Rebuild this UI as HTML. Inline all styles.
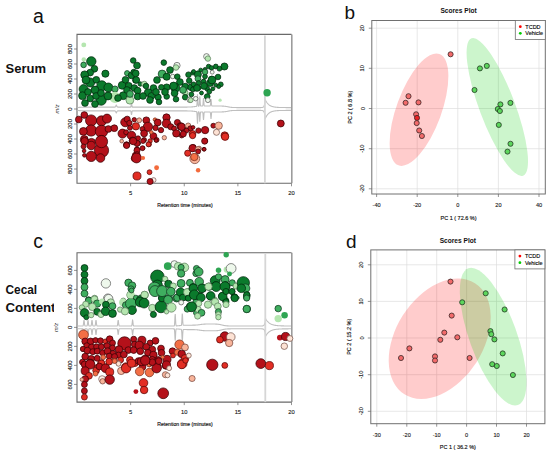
<!DOCTYPE html>
<html><head><meta charset="utf-8"><style>
html,body{margin:0;padding:0;background:#fff;width:550px;height:454px;overflow:hidden}
svg{display:block;font-family:"Liberation Sans",sans-serif}
</style></head><body>
<svg width="550" height="454" viewBox="0 0 550 454">
<defs><clipPath id="ccon"><rect x="0" y="0" width="54" height="454"/></clipPath></defs>
<path d="M291.8,183.3 V34.4 " fill="none" stroke="#9c9c9c" stroke-width="1.6"/>
<path d="M291.5,34.4 H77 V183.3 H291.5" fill="none" stroke="#6a6a6a" stroke-width="1.1"/>
<polyline points="77.50,107.49 77.75,107.48 78.00,107.47 78.25,107.45 78.50,107.44 78.75,107.43 79.00,107.41 79.25,107.40 79.50,107.38 79.75,107.37 80.00,107.35 80.25,107.33 80.50,107.32 80.75,107.30 81.00,107.29 81.25,107.27 81.50,107.26 81.75,107.25 82.00,107.23 82.25,107.22 82.50,107.21 82.75,107.20 83.00,107.19 83.25,107.18 83.50,107.17 83.75,107.17 84.00,107.16 84.25,107.15 84.50,107.15 84.75,107.14 85.00,107.14 85.25,107.13 85.50,107.13 85.75,107.13 86.00,107.12 86.25,107.12 86.50,107.12 86.75,107.12 87.00,107.11 87.25,107.11 87.50,107.11 87.75,107.11 88.00,107.11 88.25,107.11 88.50,107.11 88.75,107.11 89.00,107.11 89.25,107.10 89.50,107.10 89.75,107.10 90.00,107.10 90.25,107.10 90.50,107.10 90.75,107.10 91.00,107.10 91.25,107.10 91.50,107.10 91.75,107.10 92.00,107.10 92.25,107.10 92.50,107.10 92.75,107.10 93.00,107.10 93.25,107.10 93.50,107.10 93.75,107.10 94.00,107.10 94.25,107.10 94.50,107.10 94.75,107.10 95.00,107.10 95.25,107.10 95.50,107.10 95.75,107.10 96.00,107.10 96.25,107.10 96.50,107.10 96.75,107.10 97.00,107.10 97.25,107.10 97.50,107.10 97.75,107.10 98.00,107.10 98.25,107.10 98.50,107.10 98.75,107.10 99.00,107.10 99.25,107.10 99.50,107.10 99.75,107.10 100.00,107.10 100.25,107.10 100.50,107.10 100.75,107.10 101.00,107.10 101.25,107.10 101.50,107.10 101.75,107.10 102.00,107.10 102.25,107.10 102.50,107.10 102.75,107.10 103.00,107.10 103.25,107.10 103.50,107.10 103.75,107.10 104.00,107.10 104.25,107.10 104.50,107.10 104.75,107.10 105.00,107.10 105.25,107.10 105.50,107.10 105.75,107.10 106.00,107.10 106.25,107.10 106.50,107.10 106.75,107.10 107.00,107.10 107.25,107.10 107.50,107.10 107.75,107.10 108.00,107.10 108.25,107.10 108.50,107.10 108.75,107.10 109.00,107.10 109.25,107.10 109.50,107.10 109.75,107.10 110.00,107.10 110.25,107.10 110.50,107.10 110.75,107.10 111.00,107.10 111.25,107.10 111.50,107.10 111.75,107.10 112.00,107.10 112.25,107.10 112.50,107.10 112.75,107.10 113.00,107.10 113.25,107.10 113.50,107.10 113.75,107.10 114.00,107.10 114.25,107.10 114.50,107.10 114.75,107.10 115.00,107.08 115.25,107.01 115.50,106.76 115.75,106.24 116.00,105.54 116.25,105.11 116.50,105.31 116.75,105.96 117.00,106.59 117.25,106.94 117.50,107.06 117.75,107.09 118.00,107.10 118.25,107.10 118.50,107.10 118.75,107.10 119.00,107.10 119.25,107.10 119.50,107.10 119.75,107.10 120.00,107.10 120.25,107.10 120.50,107.10 120.75,107.10 121.00,107.10 121.25,107.10 121.50,107.10 121.75,107.10 122.00,107.10 122.25,107.10 122.50,107.10 122.75,107.10 123.00,107.10 123.25,107.10 123.50,107.10 123.75,107.10 124.00,107.10 124.25,107.10 124.50,107.10 124.75,107.10 125.00,107.10 125.25,107.10 125.50,107.10 125.75,107.10 126.00,107.10 126.25,107.10 126.50,107.10 126.75,107.10 127.00,107.10 127.25,107.10 127.50,107.10 127.75,107.10 128.00,107.10 128.25,107.10 128.50,107.10 128.75,107.10 129.00,107.10 129.25,107.10 129.50,107.10 129.75,107.10 130.00,107.10 130.25,107.10 130.50,107.09 130.75,106.98 131.00,106.26 131.25,104.39 131.50,103.10 131.75,104.39 132.00,106.26 132.25,106.98 132.50,107.09 132.75,107.10 133.00,107.10 133.25,107.10 133.50,107.10 133.75,107.10 134.00,107.10 134.25,107.10 134.50,107.10 134.75,107.10 135.00,107.10 135.25,107.10 135.50,107.10 135.75,107.10 136.00,107.10 136.25,107.10 136.50,107.10 136.75,107.10 137.00,107.10 137.25,107.10 137.50,107.10 137.75,107.10 138.00,107.10 138.25,107.10 138.50,107.10 138.75,107.10 139.00,107.10 139.25,107.10 139.50,107.10 139.75,107.10 140.00,107.10 140.25,107.10 140.50,107.10 140.75,107.10 141.00,107.10 141.25,107.10 141.50,107.10 141.75,107.10 142.00,107.10 142.25,107.10 142.50,107.10 142.75,107.10 143.00,107.10 143.25,107.10 143.50,107.10 143.75,107.10 144.00,107.10 144.25,107.10 144.50,107.10 144.75,107.10 145.00,107.10 145.25,107.10 145.50,107.10 145.75,107.10 146.00,107.10 146.25,107.10 146.50,107.10 146.75,107.10 147.00,107.10 147.25,107.10 147.50,107.10 147.75,107.10 148.00,107.10 148.25,107.10 148.50,107.10 148.75,107.10 149.00,107.10 149.25,107.10 149.50,107.10 149.75,107.10 150.00,107.10 150.25,107.10 150.50,107.10 150.75,107.10 151.00,107.10 151.25,107.10 151.50,107.10 151.75,107.10 152.00,107.10 152.25,107.10 152.50,107.10 152.75,107.10 153.00,107.10 153.25,107.10 153.50,107.10 153.75,107.10 154.00,107.10 154.25,107.10 154.50,107.10 154.75,107.10 155.00,107.10 155.25,107.10 155.50,107.10 155.75,107.10 156.00,107.10 156.25,107.10 156.50,107.10 156.75,107.10 157.00,107.10 157.25,107.10 157.50,107.10 157.75,107.10 158.00,107.10 158.25,107.10 158.50,107.10 158.75,107.10 159.00,107.10 159.25,107.10 159.50,107.10 159.75,107.10 160.00,107.10 160.25,107.10 160.50,107.10 160.75,107.10 161.00,107.10 161.25,107.10 161.50,107.10 161.75,107.10 162.00,107.10 162.25,107.10 162.50,107.10 162.75,107.10 163.00,107.10 163.25,107.10 163.50,107.10 163.75,107.10 164.00,107.10 164.25,107.10 164.50,107.10 164.75,107.10 165.00,107.10 165.25,107.10 165.50,107.10 165.75,107.10 166.00,107.10 166.25,107.10 166.50,107.10 166.75,107.10 167.00,107.10 167.25,107.10 167.50,107.10 167.75,107.10 168.00,107.10 168.25,107.10 168.50,107.10 168.75,107.10 169.00,107.10 169.25,107.10 169.50,107.10 169.75,107.10 170.00,107.10 170.25,107.10 170.50,107.10 170.75,107.10 171.00,107.10 171.25,107.10 171.50,107.10 171.75,107.10 172.00,107.10 172.25,107.10 172.50,107.10 172.75,107.10 173.00,107.10 173.25,107.10 173.50,107.10 173.75,107.10 174.00,107.10 174.25,107.10 174.50,107.10 174.75,107.10 175.00,107.10 175.25,107.10 175.50,107.10 175.75,107.10 176.00,107.10 176.25,107.10 176.50,107.10 176.75,107.10 177.00,107.10 177.25,107.10 177.50,107.10 177.75,107.10 178.00,107.10 178.25,107.10 178.50,107.10 178.75,107.10 179.00,107.10 179.25,107.10 179.50,107.10 179.75,107.10 180.00,107.10 180.25,107.10 180.50,107.10 180.75,107.10 181.00,107.10 181.25,107.10 181.50,107.10 181.75,107.10 182.00,107.10 182.25,107.10 182.50,107.10 182.75,107.10 183.00,107.10 183.25,107.10 183.50,107.10 183.75,107.10 184.00,107.10 184.25,107.09 184.50,107.09 184.75,107.09 185.00,107.09 185.25,107.09 185.50,107.09 185.75,107.09 186.00,107.09 186.25,107.09 186.50,107.08 186.75,107.08 187.00,107.08 187.25,107.08 187.50,107.07 187.75,107.07 188.00,107.07 188.25,107.06 188.50,107.06 188.75,107.05 189.00,107.05 189.25,107.04 189.50,107.03 189.75,107.03 190.00,107.02 190.25,107.01 190.50,107.00 190.75,106.98 191.00,106.97 191.25,106.95 191.50,106.94 191.75,106.92 192.00,106.90 192.25,106.88 192.50,106.86 192.75,106.83 193.00,106.80 193.25,106.78 193.50,106.75 193.75,106.72 194.00,106.68 194.25,106.65 194.50,106.62 194.75,106.58 195.00,106.55 195.25,106.52 195.50,106.48 195.75,106.45 196.00,106.42 196.25,106.38 196.50,106.33 196.75,105.97 197.00,103.78 197.25,98.15 197.50,94.24 197.75,98.10 198.00,103.69 198.25,105.82 198.50,106.14 198.75,106.14 199.00,105.95 199.25,104.61 199.50,100.41 199.75,96.25 200.00,98.30 200.25,103.25 200.50,105.60 200.75,106.02 201.00,106.05 201.25,106.05 201.50,106.04 201.75,106.04 202.00,106.03 202.25,106.03 202.50,106.01 202.75,105.78 203.00,104.34 203.25,100.60 203.50,98.02 203.75,100.60 204.00,104.34 204.25,105.77 204.50,105.99 204.75,106.01 205.00,106.01 205.25,106.01 205.50,106.01 205.75,106.01 206.00,106.00 206.25,106.00 206.50,106.00 206.75,106.00 207.00,106.00 207.25,106.00 207.50,106.00 207.75,106.00 208.00,106.00 208.25,106.00 208.50,106.00 208.75,106.00 209.00,106.00 209.25,106.00 209.50,106.00 209.75,106.00 210.00,105.99 210.25,105.79 210.50,104.53 210.75,101.26 211.00,99.00 211.25,101.26 211.50,104.53 211.75,105.79 212.00,105.99 212.25,106.00 212.50,106.00 212.75,106.00 213.00,106.00 213.25,106.00 213.50,106.00 213.75,106.00 214.00,106.00 214.25,106.00 214.50,106.00 214.75,106.00 215.00,106.00 215.25,106.00 215.50,106.00 215.75,106.00 216.00,106.00 216.25,106.00 216.50,106.01 216.75,106.01 217.00,106.01 217.25,106.01 217.50,106.01 217.75,106.01 218.00,106.01 218.25,106.01 218.50,106.01 218.75,106.02 219.00,106.02 219.25,106.02 219.50,106.02 219.75,106.03 220.00,106.03 220.25,106.03 220.50,106.04 220.75,106.04 221.00,106.05 221.25,106.05 221.50,106.06 221.75,106.07 222.00,106.08 222.25,106.09 222.50,106.10 222.75,106.11 223.00,106.12 223.25,106.14 223.50,106.15 223.75,106.17 224.00,106.19 224.25,106.21 224.50,106.24 224.75,106.26 225.00,106.29 225.25,106.32 225.50,106.36 225.75,106.39 226.00,106.43 226.25,106.47 226.50,106.51 226.75,106.56 227.00,106.60 227.25,106.65 227.50,106.70 227.75,106.75 228.00,106.80 228.25,106.85 228.50,106.90 228.75,106.95 229.00,107.00 229.25,107.04 229.50,107.09 229.75,107.13 230.00,107.17 230.25,107.21 230.50,107.24 230.75,107.28 231.00,107.31 231.25,107.34 231.50,107.36 231.75,107.39 232.00,107.41 232.25,107.43 232.50,107.45 232.75,107.46 233.00,107.48 233.25,107.49 233.50,107.50 233.75,107.51 234.00,107.52 234.25,107.53 234.50,107.54 234.75,107.55 235.00,107.55 235.25,107.56 235.50,107.56 235.75,107.57 236.00,107.57 236.25,107.57 236.50,107.58 236.75,107.58 237.00,107.58 237.25,107.58 237.50,107.59 237.75,107.59 238.00,107.59 238.25,107.59 238.50,107.59 238.75,107.59 239.00,107.59 239.25,107.59 239.50,107.59 239.75,107.60 240.00,107.60 240.25,107.60 240.50,107.60 240.75,107.60 241.00,107.60 241.25,107.60 241.50,107.60 241.75,107.60 242.00,107.60 242.25,107.60 242.50,107.60 242.75,107.60 243.00,107.60 243.25,107.60 243.50,107.60 243.75,107.60 244.00,107.60 244.25,107.60 244.50,107.60 244.75,107.60 245.00,107.60 245.25,107.60 245.50,107.60 245.75,107.60 246.00,107.60 246.25,107.60 246.50,107.60 246.75,107.60 247.00,107.60 247.25,107.60 247.50,107.60 247.75,107.60 248.00,107.60 248.25,107.60 248.50,107.60 248.75,107.60 249.00,107.60 249.25,107.60 249.50,107.60 249.75,107.60 250.00,107.60 250.25,107.60 250.50,107.60 250.75,107.60 251.00,107.60 251.25,107.60 251.50,107.60 251.75,107.60 252.00,107.60 252.25,107.60 252.50,107.60 252.75,107.60 253.00,107.60 253.25,107.60 253.50,107.60 253.75,107.60 254.00,107.60 254.25,107.60 254.50,107.60 254.75,107.60 255.00,107.60 255.25,107.60 255.50,107.60 255.75,107.60 256.00,107.60 256.25,107.60 256.50,107.60 256.75,107.60 257.00,107.60 257.25,107.60 257.50,107.60 257.75,107.60 258.00,107.60 258.25,107.60 258.50,107.60 258.75,107.60 259.00,107.60 259.25,107.60 259.50,107.60 259.75,107.60 260.00,107.60 260.25,107.59 260.50,107.59 260.75,107.59 261.00,107.58 261.25,107.57 261.50,107.56 261.75,107.54 262.00,107.51 262.25,107.48 262.50,107.42 262.75,107.35 263.00,107.24 263.25,107.09 263.50,106.87 263.75,106.56 264.00,106.11 264.25,105.47 264.50,104.55 264.75,103.24 265.00,98.85 265.25,99.46 265.50,100.02 265.75,100.54 266.00,101.03 266.25,101.48 266.50,101.90 266.75,102.29 267.00,102.66 267.25,103.00 267.50,103.32 267.75,103.61 268.00,103.89 268.25,104.14 268.50,104.38 268.75,104.60 269.00,104.81 269.25,105.00 269.50,105.18 269.75,105.35 270.00,105.50 270.25,105.65 270.50,105.78 270.75,105.91 271.00,106.02 271.25,106.13 271.50,106.23 271.75,106.33 272.00,106.42 272.25,106.50 272.50,106.57 272.75,106.64 273.00,106.71 273.25,106.77 273.50,106.83 273.75,106.88 274.00,106.93 274.25,106.98 274.50,107.02 274.75,107.06 275.00,107.10 275.25,107.13 275.50,107.16 275.75,107.19 276.00,107.22 276.25,107.25 276.50,107.27 276.75,107.30 277.00,107.32 277.25,107.34 277.50,107.35 277.75,107.37 278.00,107.39 278.25,107.40 278.50,107.42 278.75,107.43 279.00,107.44 279.25,107.45 279.50,107.46 279.75,107.47 280.00,107.48 280.25,107.49 280.50,107.50 280.75,107.50 281.00,107.51 281.25,107.52 281.50,107.52 281.75,107.53 282.00,107.53 282.25,107.54 282.50,107.54 282.75,107.55 283.00,107.55 283.25,107.55 283.50,107.56 283.75,107.56 284.00,107.56 284.25,107.56 284.50,107.57 284.75,107.57 285.00,107.57 285.25,107.57 285.50,107.57 285.75,107.58 286.00,107.58 286.25,107.58 286.50,107.58 286.75,107.58 287.00,107.58 287.25,107.58 287.50,107.59 287.75,107.59 288.00,107.59 288.25,107.59 288.50,107.59 288.75,107.59 289.00,107.59 289.25,107.59 289.50,107.59 289.75,107.59 290.00,107.59 290.25,107.59 290.50,107.59 290.75,107.59 291.00,107.59" fill="none" stroke="#bfbfbf" stroke-width="1.1"/><polyline points="77.50,110.51 77.75,110.52 78.00,110.53 78.25,110.55 78.50,110.56 78.75,110.57 79.00,110.59 79.25,110.60 79.50,110.62 79.75,110.63 80.00,110.65 80.25,110.67 80.50,110.68 80.75,110.70 81.00,110.71 81.25,110.73 81.50,110.74 81.75,110.75 82.00,110.77 82.25,110.78 82.50,110.79 82.75,110.80 83.00,110.81 83.25,110.82 83.50,110.83 83.75,110.83 84.00,110.84 84.25,110.85 84.50,110.85 84.75,110.86 85.00,110.86 85.25,110.87 85.50,110.87 85.75,110.87 86.00,110.88 86.25,110.88 86.50,110.88 86.75,110.88 87.00,110.89 87.25,110.89 87.50,110.89 87.75,110.89 88.00,110.89 88.25,110.89 88.50,110.89 88.75,110.89 89.00,110.89 89.25,110.90 89.50,110.90 89.75,110.90 90.00,110.90 90.25,110.90 90.50,110.90 90.75,110.90 91.00,110.90 91.25,110.90 91.50,110.90 91.75,110.90 92.00,110.90 92.25,110.90 92.50,110.90 92.75,110.90 93.00,110.90 93.25,110.90 93.50,110.90 93.75,110.90 94.00,110.90 94.25,110.90 94.50,110.90 94.75,110.90 95.00,110.90 95.25,110.90 95.50,110.90 95.75,110.90 96.00,110.90 96.25,110.90 96.50,110.90 96.75,110.90 97.00,110.90 97.25,110.90 97.50,110.90 97.75,110.90 98.00,110.90 98.25,110.90 98.50,110.90 98.75,110.90 99.00,110.90 99.25,110.90 99.50,110.90 99.75,110.90 100.00,110.90 100.25,110.90 100.50,110.90 100.75,110.90 101.00,110.90 101.25,110.90 101.50,110.90 101.75,110.90 102.00,110.90 102.25,110.90 102.50,110.90 102.75,110.90 103.00,110.90 103.25,110.90 103.50,110.90 103.75,110.90 104.00,110.90 104.25,110.90 104.50,110.90 104.75,110.90 105.00,110.90 105.25,110.90 105.50,110.90 105.75,110.90 106.00,110.90 106.25,110.90 106.50,110.90 106.75,110.90 107.00,110.90 107.25,110.90 107.50,110.90 107.75,110.90 108.00,110.90 108.25,110.90 108.50,110.90 108.75,110.90 109.00,110.90 109.25,110.90 109.50,110.90 109.75,110.90 110.00,110.90 110.25,110.90 110.50,110.90 110.75,110.90 111.00,110.90 111.25,110.90 111.50,110.90 111.75,110.90 112.00,110.90 112.25,110.90 112.50,110.90 112.75,110.90 113.00,110.90 113.25,110.90 113.50,110.90 113.75,110.90 114.00,110.90 114.25,110.90 114.50,110.90 114.75,110.90 115.00,110.92 115.25,110.99 115.50,111.24 115.75,111.76 116.00,112.46 116.25,112.89 116.50,112.69 116.75,112.04 117.00,111.41 117.25,111.06 117.50,110.94 117.75,110.91 118.00,110.90 118.25,110.90 118.50,110.90 118.75,110.90 119.00,110.90 119.25,110.90 119.50,110.90 119.75,110.90 120.00,110.90 120.25,110.90 120.50,110.90 120.75,110.90 121.00,110.90 121.25,110.90 121.50,110.90 121.75,110.90 122.00,110.90 122.25,110.90 122.50,110.90 122.75,110.90 123.00,110.90 123.25,110.90 123.50,110.90 123.75,110.90 124.00,110.90 124.25,110.90 124.50,110.90 124.75,110.90 125.00,110.90 125.25,110.90 125.50,110.90 125.75,110.90 126.00,110.90 126.25,110.90 126.50,110.90 126.75,110.90 127.00,110.90 127.25,110.90 127.50,110.90 127.75,110.90 128.00,110.90 128.25,110.90 128.50,110.90 128.75,110.90 129.00,110.90 129.25,110.90 129.50,110.90 129.75,110.90 130.00,110.90 130.25,110.90 130.50,110.91 130.75,111.02 131.00,111.74 131.25,113.61 131.50,114.90 131.75,113.61 132.00,111.74 132.25,111.02 132.50,110.91 132.75,110.90 133.00,110.90 133.25,110.90 133.50,110.90 133.75,110.90 134.00,110.90 134.25,110.90 134.50,110.90 134.75,110.90 135.00,110.90 135.25,110.90 135.50,110.90 135.75,110.90 136.00,110.90 136.25,110.90 136.50,110.90 136.75,110.90 137.00,110.90 137.25,110.90 137.50,110.90 137.75,110.90 138.00,110.90 138.25,110.90 138.50,110.90 138.75,110.90 139.00,110.90 139.25,110.90 139.50,110.90 139.75,110.90 140.00,110.90 140.25,110.90 140.50,110.90 140.75,110.90 141.00,110.90 141.25,110.90 141.50,110.90 141.75,110.90 142.00,110.90 142.25,110.90 142.50,110.90 142.75,110.90 143.00,110.90 143.25,110.90 143.50,110.90 143.75,110.90 144.00,110.90 144.25,110.90 144.50,110.90 144.75,110.90 145.00,110.90 145.25,110.90 145.50,110.90 145.75,110.90 146.00,110.90 146.25,110.90 146.50,110.90 146.75,110.90 147.00,110.90 147.25,110.90 147.50,110.90 147.75,110.90 148.00,110.90 148.25,110.90 148.50,110.90 148.75,110.90 149.00,110.90 149.25,110.90 149.50,110.90 149.75,110.90 150.00,110.90 150.25,110.90 150.50,110.90 150.75,110.90 151.00,110.90 151.25,110.90 151.50,110.90 151.75,110.90 152.00,110.90 152.25,110.90 152.50,110.90 152.75,110.90 153.00,110.90 153.25,110.90 153.50,110.90 153.75,110.90 154.00,110.90 154.25,110.90 154.50,110.90 154.75,110.90 155.00,110.90 155.25,110.90 155.50,110.90 155.75,110.90 156.00,110.90 156.25,110.90 156.50,110.90 156.75,110.90 157.00,110.90 157.25,110.90 157.50,110.90 157.75,110.90 158.00,110.90 158.25,110.90 158.50,110.90 158.75,110.90 159.00,110.90 159.25,110.90 159.50,110.90 159.75,110.90 160.00,110.90 160.25,110.90 160.50,110.90 160.75,110.90 161.00,110.90 161.25,110.90 161.50,110.90 161.75,110.90 162.00,110.90 162.25,110.90 162.50,110.90 162.75,110.90 163.00,110.90 163.25,110.90 163.50,110.90 163.75,110.90 164.00,110.90 164.25,110.90 164.50,110.90 164.75,110.90 165.00,110.90 165.25,110.90 165.50,110.90 165.75,110.90 166.00,110.90 166.25,110.90 166.50,110.90 166.75,110.90 167.00,110.90 167.25,110.90 167.50,110.90 167.75,110.90 168.00,110.90 168.25,110.90 168.50,110.90 168.75,110.90 169.00,110.90 169.25,110.90 169.50,110.90 169.75,110.90 170.00,110.90 170.25,110.90 170.50,110.90 170.75,110.90 171.00,110.90 171.25,110.90 171.50,110.90 171.75,110.90 172.00,110.90 172.25,110.90 172.50,110.90 172.75,110.90 173.00,110.90 173.25,110.90 173.50,110.90 173.75,110.90 174.00,110.90 174.25,110.90 174.50,110.90 174.75,110.90 175.00,110.90 175.25,110.90 175.50,110.90 175.75,110.90 176.00,110.90 176.25,110.90 176.50,110.90 176.75,110.90 177.00,110.90 177.25,110.90 177.50,110.90 177.75,110.90 178.00,110.90 178.25,110.90 178.50,110.90 178.75,110.90 179.00,110.90 179.25,110.90 179.50,110.90 179.75,110.90 180.00,110.90 180.25,110.90 180.50,110.90 180.75,110.90 181.00,110.90 181.25,110.90 181.50,110.90 181.75,110.90 182.00,110.90 182.25,110.90 182.50,110.90 182.75,110.90 183.00,110.90 183.25,110.90 183.50,110.90 183.75,110.90 184.00,110.90 184.25,110.91 184.50,110.91 184.75,110.91 185.00,110.91 185.25,110.91 185.50,110.91 185.75,110.91 186.00,110.91 186.25,110.91 186.50,110.92 186.75,110.92 187.00,110.92 187.25,110.92 187.50,110.93 187.75,110.93 188.00,110.93 188.25,110.94 188.50,110.94 188.75,110.95 189.00,110.95 189.25,110.96 189.50,110.97 189.75,110.97 190.00,110.98 190.25,110.99 190.50,111.00 190.75,111.02 191.00,111.03 191.25,111.05 191.50,111.06 191.75,111.08 192.00,111.10 192.25,111.12 192.50,111.14 192.75,111.17 193.00,111.20 193.25,111.22 193.50,111.25 193.75,111.28 194.00,111.32 194.25,111.35 194.50,111.38 194.75,111.42 195.00,111.45 195.25,111.48 195.50,111.52 195.75,111.55 196.00,111.58 196.25,111.62 196.50,111.67 196.75,112.03 197.00,114.22 197.25,119.85 197.50,123.76 197.75,119.90 198.00,114.31 198.25,112.18 198.50,111.86 198.75,111.86 199.00,112.05 199.25,113.39 199.50,117.59 199.75,121.75 200.00,119.70 200.25,114.75 200.50,112.40 200.75,111.98 201.00,111.95 201.25,111.95 201.50,111.96 201.75,111.96 202.00,111.97 202.25,111.97 202.50,111.99 202.75,112.22 203.00,113.66 203.25,117.40 203.50,119.98 203.75,117.40 204.00,113.66 204.25,112.23 204.50,112.01 204.75,111.99 205.00,111.99 205.25,111.99 205.50,111.99 205.75,111.99 206.00,112.00 206.25,112.00 206.50,112.00 206.75,112.00 207.00,112.00 207.25,112.00 207.50,112.00 207.75,112.00 208.00,112.00 208.25,112.00 208.50,112.00 208.75,112.00 209.00,112.00 209.25,112.00 209.50,112.00 209.75,112.00 210.00,112.01 210.25,112.21 210.50,113.47 210.75,116.74 211.00,119.00 211.25,116.74 211.50,113.47 211.75,112.21 212.00,112.01 212.25,112.00 212.50,112.00 212.75,112.00 213.00,112.00 213.25,112.00 213.50,112.00 213.75,112.00 214.00,112.00 214.25,112.00 214.50,112.00 214.75,112.00 215.00,112.00 215.25,112.00 215.50,112.00 215.75,112.00 216.00,112.00 216.25,112.00 216.50,111.99 216.75,111.99 217.00,111.99 217.25,111.99 217.50,111.99 217.75,111.99 218.00,111.99 218.25,111.99 218.50,111.99 218.75,111.98 219.00,111.98 219.25,111.98 219.50,111.98 219.75,111.97 220.00,111.97 220.25,111.97 220.50,111.96 220.75,111.96 221.00,111.95 221.25,111.95 221.50,111.94 221.75,111.93 222.00,111.92 222.25,111.91 222.50,111.90 222.75,111.89 223.00,111.88 223.25,111.86 223.50,111.85 223.75,111.83 224.00,111.81 224.25,111.79 224.50,111.76 224.75,111.74 225.00,111.71 225.25,111.68 225.50,111.64 225.75,111.61 226.00,111.57 226.25,111.53 226.50,111.49 226.75,111.44 227.00,111.40 227.25,111.35 227.50,111.30 227.75,111.25 228.00,111.20 228.25,111.15 228.50,111.10 228.75,111.05 229.00,111.00 229.25,110.96 229.50,110.91 229.75,110.87 230.00,110.83 230.25,110.79 230.50,110.76 230.75,110.72 231.00,110.69 231.25,110.66 231.50,110.64 231.75,110.61 232.00,110.59 232.25,110.57 232.50,110.55 232.75,110.54 233.00,110.52 233.25,110.51 233.50,110.50 233.75,110.49 234.00,110.48 234.25,110.47 234.50,110.46 234.75,110.45 235.00,110.45 235.25,110.44 235.50,110.44 235.75,110.43 236.00,110.43 236.25,110.43 236.50,110.42 236.75,110.42 237.00,110.42 237.25,110.42 237.50,110.41 237.75,110.41 238.00,110.41 238.25,110.41 238.50,110.41 238.75,110.41 239.00,110.41 239.25,110.41 239.50,110.41 239.75,110.40 240.00,110.40 240.25,110.40 240.50,110.40 240.75,110.40 241.00,110.40 241.25,110.40 241.50,110.40 241.75,110.40 242.00,110.40 242.25,110.40 242.50,110.40 242.75,110.40 243.00,110.40 243.25,110.40 243.50,110.40 243.75,110.40 244.00,110.40 244.25,110.40 244.50,110.40 244.75,110.40 245.00,110.40 245.25,110.40 245.50,110.40 245.75,110.40 246.00,110.40 246.25,110.40 246.50,110.40 246.75,110.40 247.00,110.40 247.25,110.40 247.50,110.40 247.75,110.40 248.00,110.40 248.25,110.40 248.50,110.40 248.75,110.40 249.00,110.40 249.25,110.40 249.50,110.40 249.75,110.40 250.00,110.40 250.25,110.40 250.50,110.40 250.75,110.40 251.00,110.40 251.25,110.40 251.50,110.40 251.75,110.40 252.00,110.40 252.25,110.40 252.50,110.40 252.75,110.40 253.00,110.40 253.25,110.40 253.50,110.40 253.75,110.40 254.00,110.40 254.25,110.40 254.50,110.40 254.75,110.40 255.00,110.40 255.25,110.40 255.50,110.40 255.75,110.40 256.00,110.40 256.25,110.40 256.50,110.40 256.75,110.40 257.00,110.40 257.25,110.40 257.50,110.40 257.75,110.40 258.00,110.40 258.25,110.40 258.50,110.40 258.75,110.40 259.00,110.40 259.25,110.40 259.50,110.40 259.75,110.40 260.00,110.40 260.25,110.41 260.50,110.41 260.75,110.41 261.00,110.42 261.25,110.43 261.50,110.44 261.75,110.46 262.00,110.49 262.25,110.52 262.50,110.58 262.75,110.65 263.00,110.76 263.25,110.91 263.50,111.13 263.75,111.44 264.00,111.89 264.25,112.53 264.50,113.45 264.75,114.76 265.00,119.15 265.25,118.54 265.50,117.98 265.75,117.46 266.00,116.97 266.25,116.52 266.50,116.10 266.75,115.71 267.00,115.34 267.25,115.00 267.50,114.68 267.75,114.39 268.00,114.11 268.25,113.86 268.50,113.62 268.75,113.40 269.00,113.19 269.25,113.00 269.50,112.82 269.75,112.65 270.00,112.50 270.25,112.35 270.50,112.22 270.75,112.09 271.00,111.98 271.25,111.87 271.50,111.77 271.75,111.67 272.00,111.58 272.25,111.50 272.50,111.43 272.75,111.36 273.00,111.29 273.25,111.23 273.50,111.17 273.75,111.12 274.00,111.07 274.25,111.02 274.50,110.98 274.75,110.94 275.00,110.90 275.25,110.87 275.50,110.84 275.75,110.81 276.00,110.78 276.25,110.75 276.50,110.73 276.75,110.70 277.00,110.68 277.25,110.66 277.50,110.65 277.75,110.63 278.00,110.61 278.25,110.60 278.50,110.58 278.75,110.57 279.00,110.56 279.25,110.55 279.50,110.54 279.75,110.53 280.00,110.52 280.25,110.51 280.50,110.50 280.75,110.50 281.00,110.49 281.25,110.48 281.50,110.48 281.75,110.47 282.00,110.47 282.25,110.46 282.50,110.46 282.75,110.45 283.00,110.45 283.25,110.45 283.50,110.44 283.75,110.44 284.00,110.44 284.25,110.44 284.50,110.43 284.75,110.43 285.00,110.43 285.25,110.43 285.50,110.43 285.75,110.42 286.00,110.42 286.25,110.42 286.50,110.42 286.75,110.42 287.00,110.42 287.25,110.42 287.50,110.41 287.75,110.41 288.00,110.41 288.25,110.41 288.50,110.41 288.75,110.41 289.00,110.41 289.25,110.41 289.50,110.41 289.75,110.41 290.00,110.41 290.25,110.41 290.50,110.41 290.75,110.41 291.00,110.41" fill="none" stroke="#bfbfbf" stroke-width="1.1"/><line x1="264.9" y1="35.4" x2="264.9" y2="183.3" stroke="#d6d6d6" stroke-width="1.8"/>
<line x1="74" y1="49.0" x2="77" y2="49.0" stroke="#666" stroke-width="0.7"/>
<text x="72.3" y="49.0" font-size="6.0" text-anchor="middle" font-weight="normal" fill="#1a1a1a" stroke="#1a1a1a" stroke-width="0.12" transform="rotate(-90 72.3 49.0)">800</text>
<line x1="74" y1="64.0" x2="77" y2="64.0" stroke="#666" stroke-width="0.7"/>
<text x="72.3" y="64.0" font-size="6.0" text-anchor="middle" font-weight="normal" fill="#1a1a1a" stroke="#1a1a1a" stroke-width="0.12" transform="rotate(-90 72.3 64.0)">600</text>
<line x1="74" y1="79.0" x2="77" y2="79.0" stroke="#666" stroke-width="0.7"/>
<text x="72.3" y="79.0" font-size="6.0" text-anchor="middle" font-weight="normal" fill="#1a1a1a" stroke="#1a1a1a" stroke-width="0.12" transform="rotate(-90 72.3 79.0)">400</text>
<line x1="74" y1="94.0" x2="77" y2="94.0" stroke="#666" stroke-width="0.7"/>
<text x="72.3" y="94.0" font-size="6.0" text-anchor="middle" font-weight="normal" fill="#1a1a1a" stroke="#1a1a1a" stroke-width="0.12" transform="rotate(-90 72.3 94.0)">200</text>
<line x1="74" y1="109.0" x2="77" y2="109.0" stroke="#666" stroke-width="0.7"/>
<text x="72.3" y="109.0" font-size="6.0" text-anchor="middle" font-weight="normal" fill="#1a1a1a" stroke="#1a1a1a" stroke-width="0.12" transform="rotate(-90 72.3 109.0)">0</text>
<line x1="74" y1="124.0" x2="77" y2="124.0" stroke="#666" stroke-width="0.7"/>
<text x="72.3" y="124.0" font-size="6.0" text-anchor="middle" font-weight="normal" fill="#1a1a1a" stroke="#1a1a1a" stroke-width="0.12" transform="rotate(-90 72.3 124.0)">200</text>
<line x1="74" y1="139.0" x2="77" y2="139.0" stroke="#666" stroke-width="0.7"/>
<text x="72.3" y="139.0" font-size="6.0" text-anchor="middle" font-weight="normal" fill="#1a1a1a" stroke="#1a1a1a" stroke-width="0.12" transform="rotate(-90 72.3 139.0)">400</text>
<line x1="74" y1="154.0" x2="77" y2="154.0" stroke="#666" stroke-width="0.7"/>
<text x="72.3" y="154.0" font-size="6.0" text-anchor="middle" font-weight="normal" fill="#1a1a1a" stroke="#1a1a1a" stroke-width="0.12" transform="rotate(-90 72.3 154.0)">600</text>
<line x1="74" y1="169.0" x2="77" y2="169.0" stroke="#666" stroke-width="0.7"/>
<text x="72.3" y="169.0" font-size="6.0" text-anchor="middle" font-weight="normal" fill="#1a1a1a" stroke="#1a1a1a" stroke-width="0.12" transform="rotate(-90 72.3 169.0)">800</text>
<line x1="130.625" y1="183.3" x2="130.625" y2="186.3" stroke="#666" stroke-width="0.7"/>
<text x="130.625" y="195.3" font-size="5.8" text-anchor="middle" font-weight="normal" fill="#1a1a1a" stroke="#1a1a1a" stroke-width="0.12">5</text>
<line x1="184.25" y1="183.3" x2="184.25" y2="186.3" stroke="#666" stroke-width="0.7"/>
<text x="184.25" y="195.3" font-size="5.8" text-anchor="middle" font-weight="normal" fill="#1a1a1a" stroke="#1a1a1a" stroke-width="0.12">10</text>
<line x1="237.875" y1="183.3" x2="237.875" y2="186.3" stroke="#666" stroke-width="0.7"/>
<text x="237.875" y="195.3" font-size="5.8" text-anchor="middle" font-weight="normal" fill="#1a1a1a" stroke="#1a1a1a" stroke-width="0.12">15</text>
<line x1="291.5" y1="183.3" x2="291.5" y2="186.3" stroke="#666" stroke-width="0.7"/>
<text x="291.5" y="195.3" font-size="5.8" text-anchor="middle" font-weight="normal" fill="#1a1a1a" stroke="#1a1a1a" stroke-width="0.12">20</text>
<circle cx="91.3" cy="61.4" r="4.70" fill="#0b7a2c" stroke="#022a0c" stroke-width="0.75"/>
<circle cx="83.8" cy="59.6" r="2.24" fill="#b5e6b0"/>
<circle cx="83.6" cy="64.9" r="2.80" fill="#3fae5f" stroke="#123a20" stroke-width="0.75"/>
<circle cx="94.4" cy="68.8" r="3.36" fill="#0b7a2c" stroke="#022a0c" stroke-width="0.75"/>
<circle cx="90.2" cy="72.6" r="3.36" fill="#0b7a2c" stroke="#022a0c" stroke-width="0.75"/>
<circle cx="84.7" cy="74.8" r="3.92" fill="#0b7a2c" stroke="#022a0c" stroke-width="0.75"/>
<circle cx="105.4" cy="73.7" r="3.58" fill="#0b7a2c" stroke="#022a0c" stroke-width="0.75"/>
<circle cx="90.2" cy="82.5" r="4.48" fill="#0b7a2c" stroke="#022a0c" stroke-width="0.75"/>
<circle cx="96.3" cy="79.8" r="3.36" fill="#0b7a2c" stroke="#022a0c" stroke-width="0.75"/>
<circle cx="101.8" cy="85.8" r="5.04" fill="#0b7a2c" stroke="#022a0c" stroke-width="0.75"/>
<circle cx="108.4" cy="87.5" r="4.48" fill="#0b7a2c" stroke="#022a0c" stroke-width="0.75"/>
<circle cx="115.0" cy="89.1" r="3.14" fill="#3fae5f" stroke="#123a20" stroke-width="0.75"/>
<circle cx="115.0" cy="97.4" r="5.60" fill="#b5e6b0"/>
<circle cx="101.2" cy="100.2" r="5.04" fill="#0b7a2c" stroke="#022a0c" stroke-width="0.75"/>
<circle cx="83.6" cy="89.1" r="4.48" fill="#0b7a2c" stroke="#022a0c" stroke-width="0.75"/>
<circle cx="90.2" cy="98.5" r="3.36" fill="#0b7a2c" stroke="#022a0c" stroke-width="0.75"/>
<circle cx="82.5" cy="95.7" r="3.92" fill="#0b7a2c" stroke="#022a0c" stroke-width="0.75"/>
<circle cx="122.2" cy="85.3" r="3.92" fill="#0b7a2c" stroke="#022a0c" stroke-width="0.75"/>
<circle cx="125.5" cy="79.8" r="3.36" fill="#0b7a2c" stroke="#022a0c" stroke-width="0.75"/>
<circle cx="127.1" cy="73.2" r="2.58" fill="#3fae5f" stroke="#123a20" stroke-width="0.75"/>
<circle cx="131.5" cy="75.4" r="3.36" fill="#0b7a2c" stroke="#022a0c" stroke-width="0.75"/>
<circle cx="133.7" cy="72.1" r="2.80" fill="#0b7a2c" stroke="#022a0c" stroke-width="0.75"/>
<circle cx="133.2" cy="60.5" r="2.80" fill="#0b7a2c" stroke="#022a0c" stroke-width="0.75"/>
<circle cx="123.3" cy="95.7" r="3.92" fill="#0b7a2c" stroke="#022a0c" stroke-width="0.75"/>
<circle cx="129.9" cy="100.2" r="3.92" fill="#b5e6b0" stroke="#5f7f5f" stroke-width="0.75"/>
<circle cx="128.8" cy="85.8" r="3.36" fill="#0b7a2c" stroke="#022a0c" stroke-width="0.75"/>
<circle cx="134.3" cy="88.0" r="3.36" fill="#0b7a2c" stroke="#022a0c" stroke-width="0.75"/>
<circle cx="135.4" cy="80.3" r="2.80" fill="#0b7a2c" stroke="#022a0c" stroke-width="0.75"/>
<circle cx="83.8" cy="44.9" r="2.46" fill="#b5e6b0"/>
<circle cx="86.0" cy="80.0" r="3.92" fill="#0b7a2c" stroke="#022a0c" stroke-width="0.75"/>
<circle cx="95.0" cy="90.0" r="3.92" fill="#0b7a2c" stroke="#022a0c" stroke-width="0.75"/>
<circle cx="88.0" cy="92.0" r="3.36" fill="#0b7a2c" stroke="#022a0c" stroke-width="0.75"/>
<circle cx="96.0" cy="96.0" r="3.36" fill="#0b7a2c" stroke="#022a0c" stroke-width="0.75"/>
<circle cx="108.0" cy="96.0" r="3.92" fill="#0b7a2c" stroke="#022a0c" stroke-width="0.75"/>
<circle cx="85.0" cy="103.0" r="3.36" fill="#0b7a2c" stroke="#022a0c" stroke-width="0.75"/>
<circle cx="95.0" cy="104.0" r="3.36" fill="#0b7a2c" stroke="#022a0c" stroke-width="0.75"/>
<circle cx="101.0" cy="93.0" r="3.36" fill="#0b7a2c" stroke="#022a0c" stroke-width="0.75"/>
<circle cx="163.8" cy="62.6" r="2.80" fill="#0b7a2c" stroke="#022a0c" stroke-width="0.75"/>
<circle cx="177.0" cy="65.5" r="3.14" fill="#eef8ec" stroke="#606060" stroke-width="0.75"/>
<circle cx="176.0" cy="67.5" r="2.80" fill="#b5e6b0" stroke="#5f7f5f" stroke-width="0.75"/>
<circle cx="137.0" cy="65.5" r="3.36" fill="#0b7a2c" stroke="#022a0c" stroke-width="0.75"/>
<circle cx="135.7" cy="73.4" r="3.36" fill="#0b7a2c" stroke="#022a0c" stroke-width="0.75"/>
<circle cx="136.3" cy="80.0" r="3.36" fill="#0b7a2c" stroke="#022a0c" stroke-width="0.75"/>
<circle cx="140.3" cy="84.0" r="2.24" fill="#0b7a2c" stroke="#022a0c" stroke-width="0.75"/>
<circle cx="144.3" cy="84.0" r="2.80" fill="#b5e6b0" stroke="#5f7f5f" stroke-width="0.75"/>
<circle cx="162.1" cy="74.0" r="3.92" fill="#3fae5f" stroke="#123a20" stroke-width="0.75"/>
<circle cx="166.7" cy="76.7" r="3.58" fill="#0b7a2c" stroke="#022a0c" stroke-width="0.75"/>
<circle cx="172.7" cy="76.5" r="2.24" fill="#eef8ec" stroke="#606060" stroke-width="0.75"/>
<circle cx="177.3" cy="76.7" r="2.80" fill="#0b7a2c" stroke="#022a0c" stroke-width="0.75"/>
<circle cx="179.9" cy="82.0" r="3.36" fill="#0b7a2c" stroke="#022a0c" stroke-width="0.75"/>
<circle cx="175.3" cy="88.0" r="4.48" fill="#0b7a2c" stroke="#022a0c" stroke-width="0.75"/>
<circle cx="166.7" cy="87.3" r="3.36" fill="#0b7a2c" stroke="#022a0c" stroke-width="0.75"/>
<circle cx="161.4" cy="87.3" r="2.80" fill="#0b7a2c" stroke="#022a0c" stroke-width="0.75"/>
<circle cx="153.5" cy="88.0" r="3.36" fill="#0b7a2c" stroke="#022a0c" stroke-width="0.75"/>
<circle cx="148.2" cy="92.6" r="3.92" fill="#0b7a2c" stroke="#022a0c" stroke-width="0.75"/>
<circle cx="151.5" cy="95.9" r="3.36" fill="#0b7a2c" stroke="#022a0c" stroke-width="0.75"/>
<circle cx="158.1" cy="97.2" r="3.14" fill="#0b7a2c" stroke="#022a0c" stroke-width="0.75"/>
<circle cx="166.7" cy="96.5" r="2.80" fill="#0b7a2c" stroke="#022a0c" stroke-width="0.75"/>
<circle cx="174.6" cy="93.2" r="3.36" fill="#0b7a2c" stroke="#022a0c" stroke-width="0.75"/>
<circle cx="176.0" cy="99.2" r="2.80" fill="#0b7a2c" stroke="#022a0c" stroke-width="0.75"/>
<circle cx="137.6" cy="90.6" r="3.36" fill="#0b7a2c" stroke="#022a0c" stroke-width="0.75"/>
<circle cx="137.6" cy="96.5" r="3.36" fill="#0b7a2c" stroke="#022a0c" stroke-width="0.75"/>
<circle cx="185.2" cy="86.6" r="3.36" fill="#0b7a2c" stroke="#022a0c" stroke-width="0.75"/>
<circle cx="188.5" cy="74.7" r="2.80" fill="#0b7a2c" stroke="#022a0c" stroke-width="0.75"/>
<circle cx="193.1" cy="72.8" r="2.24" fill="#0b7a2c" stroke="#022a0c" stroke-width="0.75"/>
<circle cx="189.2" cy="80.7" r="2.80" fill="#0b7a2c" stroke="#022a0c" stroke-width="0.75"/>
<circle cx="191.2" cy="87.3" r="3.36" fill="#0b7a2c" stroke="#022a0c" stroke-width="0.75"/>
<circle cx="185.2" cy="92.6" r="2.80" fill="#b5e6b0" stroke="#5f7f5f" stroke-width="0.75"/>
<circle cx="185.2" cy="97.2" r="2.80" fill="#0b7a2c" stroke="#022a0c" stroke-width="0.75"/>
<circle cx="189.8" cy="99.8" r="2.80" fill="#eef8ec" stroke="#606060" stroke-width="0.75"/>
<circle cx="206.5" cy="56.5" r="2.89" fill="#eef8ec" stroke="#606060" stroke-width="0.75"/>
<circle cx="207.9" cy="58.6" r="2.73" fill="#b5e6b0" stroke="#5f7f5f" stroke-width="0.75"/>
<circle cx="208.6" cy="66.5" r="2.25" fill="#0b7a2c" stroke="#022a0c" stroke-width="0.75"/>
<circle cx="215.8" cy="66.5" r="2.41" fill="#0b7a2c" stroke="#022a0c" stroke-width="0.75"/>
<circle cx="224.4" cy="66.5" r="3.53" fill="#0b7a2c" stroke="#022a0c" stroke-width="0.75"/>
<circle cx="219.4" cy="68.7" r="2.41" fill="#0b7a2c" stroke="#022a0c" stroke-width="0.75"/>
<circle cx="211.5" cy="67.9" r="2.25" fill="#0b7a2c" stroke="#022a0c" stroke-width="0.75"/>
<circle cx="205.0" cy="69.4" r="1.93" fill="#0b7a2c" stroke="#022a0c" stroke-width="0.75"/>
<circle cx="200.7" cy="70.1" r="1.93" fill="#0b7a2c" stroke="#022a0c" stroke-width="0.75"/>
<circle cx="212.2" cy="72.2" r="1.93" fill="#eef8ec" stroke="#606060" stroke-width="0.75"/>
<circle cx="193.6" cy="71.5" r="1.93" fill="#0b7a2c" stroke="#022a0c" stroke-width="0.75"/>
<circle cx="197.9" cy="74.4" r="3.53" fill="#0b7a2c" stroke="#022a0c" stroke-width="0.75"/>
<circle cx="197.9" cy="78.7" r="2.89" fill="#3fae5f" stroke="#123a20" stroke-width="0.75"/>
<circle cx="205.0" cy="76.5" r="2.41" fill="#0b7a2c" stroke="#022a0c" stroke-width="0.75"/>
<circle cx="210.1" cy="83.0" r="3.53" fill="#0b7a2c" stroke="#022a0c" stroke-width="0.75"/>
<circle cx="211.5" cy="78.7" r="2.41" fill="#3fae5f" stroke="#123a20" stroke-width="0.75"/>
<circle cx="203.6" cy="81.5" r="2.41" fill="#0b7a2c" stroke="#022a0c" stroke-width="0.75"/>
<circle cx="198.6" cy="83.0" r="2.41" fill="#0b7a2c" stroke="#022a0c" stroke-width="0.75"/>
<circle cx="193.6" cy="84.4" r="2.41" fill="#0b7a2c" stroke="#022a0c" stroke-width="0.75"/>
<circle cx="220.8" cy="84.4" r="2.41" fill="#0b7a2c" stroke="#022a0c" stroke-width="0.75"/>
<circle cx="215.8" cy="85.1" r="1.93" fill="#0b7a2c" stroke="#022a0c" stroke-width="0.75"/>
<circle cx="218.7" cy="86.6" r="1.93" fill="#0b7a2c" stroke="#022a0c" stroke-width="0.75"/>
<circle cx="212.9" cy="88.7" r="1.93" fill="#0b7a2c" stroke="#022a0c" stroke-width="0.75"/>
<circle cx="207.2" cy="88.7" r="2.41" fill="#0b7a2c" stroke="#022a0c" stroke-width="0.75"/>
<circle cx="198.6" cy="88.0" r="2.41" fill="#3fae5f" stroke="#123a20" stroke-width="0.75"/>
<circle cx="192.9" cy="89.4" r="2.41" fill="#0b7a2c" stroke="#022a0c" stroke-width="0.75"/>
<circle cx="209.3" cy="91.6" r="2.41" fill="#0b7a2c" stroke="#022a0c" stroke-width="0.75"/>
<circle cx="201.5" cy="93.0" r="1.93" fill="#0b7a2c" stroke="#022a0c" stroke-width="0.75"/>
<circle cx="191.4" cy="94.4" r="2.41" fill="#0b7a2c" stroke="#022a0c" stroke-width="0.75"/>
<circle cx="207.2" cy="96.6" r="2.89" fill="#0b7a2c" stroke="#022a0c" stroke-width="0.75"/>
<circle cx="195.7" cy="98.7" r="2.25" fill="#eef8ec" stroke="#606060" stroke-width="0.75"/>
<circle cx="207.9" cy="100.2" r="2.41" fill="#eef8ec" stroke="#606060" stroke-width="0.75"/>
<circle cx="190.7" cy="100.2" r="2.41" fill="#b5e6b0" stroke="#5f7f5f" stroke-width="0.75"/>
<circle cx="220.1" cy="100.2" r="1.60" fill="#b5e6b0"/>
<circle cx="267.1" cy="92.7" r="3.70" fill="#2ea552"/>
<circle cx="173.6" cy="86.0" r="3.92" fill="#0b7a2c" stroke="#022a0c" stroke-width="0.75"/>
<circle cx="165.0" cy="92.0" r="3.36" fill="#0b7a2c" stroke="#022a0c" stroke-width="0.75"/>
<circle cx="183.0" cy="90.0" r="3.36" fill="#3fae5f" stroke="#123a20" stroke-width="0.75"/>
<circle cx="197.0" cy="88.0" r="3.36" fill="#0b7a2c" stroke="#022a0c" stroke-width="0.75"/>
<circle cx="204.0" cy="86.0" r="3.36" fill="#0b7a2c" stroke="#022a0c" stroke-width="0.75"/>
<circle cx="212.0" cy="80.0" r="3.92" fill="#0b7a2c" stroke="#022a0c" stroke-width="0.75"/>
<circle cx="218.0" cy="77.0" r="2.80" fill="#0b7a2c" stroke="#022a0c" stroke-width="0.75"/>
<circle cx="157.0" cy="80.0" r="3.36" fill="#0b7a2c" stroke="#022a0c" stroke-width="0.75"/>
<circle cx="170.0" cy="70.0" r="3.36" fill="#0b7a2c" stroke="#022a0c" stroke-width="0.75"/>
<circle cx="205.0" cy="72.0" r="2.80" fill="#3fae5f" stroke="#123a20" stroke-width="0.75"/>
<circle cx="143.0" cy="96.0" r="3.36" fill="#0b7a2c" stroke="#022a0c" stroke-width="0.75"/>
<circle cx="150.0" cy="100.0" r="3.36" fill="#0b7a2c" stroke="#022a0c" stroke-width="0.75"/>
<circle cx="156.0" cy="92.0" r="3.36" fill="#0b7a2c" stroke="#022a0c" stroke-width="0.75"/>
<circle cx="146.0" cy="86.0" r="2.80" fill="#0b7a2c" stroke="#022a0c" stroke-width="0.75"/>
<circle cx="159.0" cy="102.0" r="2.80" fill="#0b7a2c" stroke="#022a0c" stroke-width="0.75"/>
<circle cx="127.0" cy="90.0" r="3.36" fill="#0b7a2c" stroke="#022a0c" stroke-width="0.75"/>
<circle cx="118.0" cy="98.0" r="3.36" fill="#0b7a2c" stroke="#022a0c" stroke-width="0.75"/>
<circle cx="130.0" cy="94.0" r="3.36" fill="#3fae5f" stroke="#123a20" stroke-width="0.75"/>
<circle cx="91.1" cy="120.5" r="5.60" fill="#b4111a" stroke="#3a0204" stroke-width="0.75"/>
<circle cx="101.5" cy="120.9" r="5.04" fill="#b4111a" stroke="#3a0204" stroke-width="0.75"/>
<circle cx="107.0" cy="118.6" r="4.48" fill="#b4111a" stroke="#3a0204" stroke-width="0.75"/>
<circle cx="84.3" cy="115.0" r="3.36" fill="#b4111a" stroke="#3a0204" stroke-width="0.75"/>
<circle cx="78.8" cy="119.5" r="3.36" fill="#b4111a" stroke="#3a0204" stroke-width="0.75"/>
<circle cx="91.1" cy="130.5" r="5.60" fill="#b4111a" stroke="#3a0204" stroke-width="0.75"/>
<circle cx="101.5" cy="131.4" r="6.16" fill="#b4111a" stroke="#3a0204" stroke-width="0.75"/>
<circle cx="108.4" cy="129.0" r="3.36" fill="#b4111a" stroke="#3a0204" stroke-width="0.75"/>
<circle cx="114.3" cy="128.2" r="3.36" fill="#b4111a" stroke="#3a0204" stroke-width="0.75"/>
<circle cx="122.5" cy="133.6" r="4.48" fill="#b4111a" stroke="#3a0204" stroke-width="0.75"/>
<circle cx="125.2" cy="122.3" r="4.48" fill="#b4111a" stroke="#3a0204" stroke-width="0.75"/>
<circle cx="83.4" cy="131.4" r="3.92" fill="#b4111a" stroke="#3a0204" stroke-width="0.75"/>
<circle cx="84.3" cy="139.5" r="3.92" fill="#b4111a" stroke="#3a0204" stroke-width="0.75"/>
<circle cx="101.5" cy="140.5" r="5.04" fill="#b4111a" stroke="#3a0204" stroke-width="0.75"/>
<circle cx="91.5" cy="142.3" r="3.92" fill="#b4111a" stroke="#3a0204" stroke-width="0.75"/>
<circle cx="127.2" cy="119.2" r="3.05" fill="#b4111a" stroke="#3a0204" stroke-width="0.75"/>
<circle cx="134.3" cy="119.7" r="2.20" fill="#b4111a" stroke="#3a0204" stroke-width="0.75"/>
<circle cx="139.2" cy="120.3" r="2.44" fill="#f8b49a" stroke="#7a4a40" stroke-width="0.75"/>
<circle cx="129.4" cy="123.0" r="2.69" fill="#b4111a" stroke="#3a0204" stroke-width="0.75"/>
<circle cx="135.9" cy="126.3" r="3.67" fill="#e22e24" stroke="#5a0808" stroke-width="0.75"/>
<circle cx="129.9" cy="127.9" r="2.44" fill="#b4111a" stroke="#3a0204" stroke-width="0.75"/>
<circle cx="126.1" cy="132.3" r="2.44" fill="#b4111a" stroke="#3a0204" stroke-width="0.75"/>
<circle cx="146.3" cy="120.3" r="3.42" fill="#b4111a" stroke="#3a0204" stroke-width="0.75"/>
<circle cx="147.9" cy="126.8" r="4.64" fill="#b4111a" stroke="#3a0204" stroke-width="0.75"/>
<circle cx="142.5" cy="129.0" r="2.44" fill="#b4111a" stroke="#3a0204" stroke-width="0.75"/>
<circle cx="144.1" cy="133.4" r="3.42" fill="#b4111a" stroke="#3a0204" stroke-width="0.75"/>
<circle cx="155.0" cy="119.7" r="1.83" fill="#f36f45" stroke="#7a3020" stroke-width="0.75"/>
<circle cx="157.7" cy="122.5" r="3.42" fill="#b4111a" stroke="#3a0204" stroke-width="0.75"/>
<circle cx="155.5" cy="127.9" r="2.69" fill="#b4111a" stroke="#3a0204" stroke-width="0.75"/>
<circle cx="161.0" cy="130.1" r="2.69" fill="#b4111a" stroke="#3a0204" stroke-width="0.75"/>
<circle cx="166.5" cy="117.5" r="3.67" fill="#b4111a" stroke="#3a0204" stroke-width="0.75"/>
<circle cx="166.5" cy="123.5" r="4.28" fill="#b4111a" stroke="#3a0204" stroke-width="0.75"/>
<circle cx="170.8" cy="126.8" r="3.05" fill="#b4111a" stroke="#3a0204" stroke-width="0.75"/>
<circle cx="174.1" cy="128.5" r="2.44" fill="#b4111a" stroke="#3a0204" stroke-width="0.75"/>
<circle cx="177.4" cy="122.5" r="3.05" fill="#b4111a" stroke="#3a0204" stroke-width="0.75"/>
<circle cx="180.6" cy="126.3" r="3.67" fill="#b4111a" stroke="#3a0204" stroke-width="0.75"/>
<circle cx="183.9" cy="130.1" r="3.05" fill="#b4111a" stroke="#3a0204" stroke-width="0.75"/>
<circle cx="176.3" cy="133.4" r="3.67" fill="#b4111a" stroke="#3a0204" stroke-width="0.75"/>
<circle cx="181.7" cy="135.5" r="2.44" fill="#b4111a" stroke="#3a0204" stroke-width="0.75"/>
<circle cx="164.3" cy="137.7" r="2.20" fill="#f8b49a" stroke="#7a4a40" stroke-width="0.75"/>
<circle cx="131.5" cy="135.5" r="4.28" fill="#b4111a" stroke="#3a0204" stroke-width="0.75"/>
<circle cx="132.6" cy="140.5" r="3.42" fill="#b4111a" stroke="#3a0204" stroke-width="0.75"/>
<circle cx="138.1" cy="138.3" r="2.44" fill="#b4111a" stroke="#3a0204" stroke-width="0.75"/>
<circle cx="144.1" cy="139.9" r="2.44" fill="#b4111a" stroke="#3a0204" stroke-width="0.75"/>
<circle cx="153.4" cy="136.1" r="3.42" fill="#b4111a" stroke="#3a0204" stroke-width="0.75"/>
<circle cx="156.6" cy="139.9" r="2.44" fill="#b4111a" stroke="#3a0204" stroke-width="0.75"/>
<circle cx="150.1" cy="141.0" r="2.20" fill="#e22e24" stroke="#5a0808" stroke-width="0.75"/>
<circle cx="149.0" cy="144.3" r="2.44" fill="#e22e24" stroke="#5a0808" stroke-width="0.75"/>
<circle cx="138.1" cy="143.2" r="2.44" fill="#b4111a" stroke="#3a0204" stroke-width="0.75"/>
<circle cx="126.6" cy="144.8" r="3.05" fill="#b4111a" stroke="#3a0204" stroke-width="0.75"/>
<circle cx="137.0" cy="148.6" r="2.20" fill="#b4111a" stroke="#3a0204" stroke-width="0.75"/>
<circle cx="143.0" cy="148.1" r="1.83" fill="#b4111a" stroke="#3a0204" stroke-width="0.75"/>
<circle cx="151.2" cy="132.3" r="1.83" fill="#f36f45" stroke="#7a3020" stroke-width="0.75"/>
<circle cx="181.6" cy="126.8" r="3.67" fill="#b4111a" stroke="#3a0204" stroke-width="0.75"/>
<circle cx="188.2" cy="125.7" r="2.69" fill="#f8b49a" stroke="#7a4a40" stroke-width="0.75"/>
<circle cx="190.4" cy="128.5" r="2.69" fill="#b4111a" stroke="#3a0204" stroke-width="0.75"/>
<circle cx="193.1" cy="127.4" r="1.83" fill="#b4111a" stroke="#3a0204" stroke-width="0.75"/>
<circle cx="186.5" cy="130.6" r="2.44" fill="#b4111a" stroke="#3a0204" stroke-width="0.75"/>
<circle cx="183.3" cy="133.9" r="3.05" fill="#b4111a" stroke="#3a0204" stroke-width="0.75"/>
<circle cx="192.5" cy="133.9" r="3.42" fill="#e22e24" stroke="#5a0808" stroke-width="0.75"/>
<circle cx="198.5" cy="130.6" r="2.69" fill="#b4111a" stroke="#3a0204" stroke-width="0.75"/>
<circle cx="205.1" cy="130.1" r="3.67" fill="#b4111a" stroke="#3a0204" stroke-width="0.75"/>
<circle cx="213.3" cy="125.7" r="2.44" fill="#b4111a" stroke="#3a0204" stroke-width="0.75"/>
<circle cx="218.7" cy="125.7" r="3.67" fill="#f8b49a" stroke="#7a4a40" stroke-width="0.75"/>
<circle cx="216.5" cy="132.3" r="3.05" fill="#fde2d4" stroke="#7a5a50" stroke-width="0.75"/>
<circle cx="224.7" cy="135.5" r="3.67" fill="#e22e24" stroke="#5a0808" stroke-width="0.75"/>
<circle cx="205.1" cy="141.0" r="2.44" fill="#b4111a" stroke="#3a0204" stroke-width="0.75"/>
<circle cx="193.1" cy="147.5" r="3.05" fill="#b4111a" stroke="#3a0204" stroke-width="0.75"/>
<circle cx="199.1" cy="148.6" r="2.44" fill="#f8b49a" stroke="#7a4a40" stroke-width="0.75"/>
<circle cx="204.0" cy="149.2" r="1.83" fill="#b4111a" stroke="#3a0204" stroke-width="0.75"/>
<circle cx="280.8" cy="123.5" r="3.47" fill="#b4111a" stroke="#3a0204" stroke-width="0.75"/>
<circle cx="84.6" cy="141.1" r="3.67" fill="#b4111a" stroke="#3a0204" stroke-width="0.75"/>
<circle cx="91.2" cy="145.5" r="4.28" fill="#b4111a" stroke="#3a0204" stroke-width="0.75"/>
<circle cx="101.5" cy="150.4" r="7.09" fill="#b4111a" stroke="#3a0204" stroke-width="0.75"/>
<circle cx="101.5" cy="141.6" r="6.11" fill="#b4111a" stroke="#3a0204" stroke-width="0.75"/>
<circle cx="91.2" cy="156.4" r="5.13" fill="#b4111a" stroke="#3a0204" stroke-width="0.75"/>
<circle cx="100.5" cy="158.0" r="4.28" fill="#b4111a" stroke="#3a0204" stroke-width="0.75"/>
<circle cx="84.1" cy="150.9" r="1.83" fill="#b4111a" stroke="#3a0204" stroke-width="0.75"/>
<circle cx="84.4" cy="155.3" r="1.83" fill="#b4111a" stroke="#3a0204" stroke-width="0.75"/>
<circle cx="83.5" cy="146.5" r="2.44" fill="#b4111a" stroke="#3a0204" stroke-width="0.75"/>
<circle cx="126.6" cy="144.9" r="2.69" fill="#b4111a" stroke="#3a0204" stroke-width="0.75"/>
<circle cx="121.7" cy="141.1" r="1.83" fill="#f8b49a" stroke="#7a4a40" stroke-width="0.75"/>
<circle cx="135.9" cy="176.0" r="2.44" fill="#e22e24" stroke="#5a0808" stroke-width="0.75"/>
<circle cx="135.4" cy="155.3" r="3.05" fill="#b4111a" stroke="#3a0204" stroke-width="0.75"/>
<circle cx="134.3" cy="158.5" r="3.05" fill="#e22e24" stroke="#5a0808" stroke-width="0.75"/>
<circle cx="126.6" cy="145.5" r="3.05" fill="#b4111a" stroke="#3a0204" stroke-width="0.75"/>
<circle cx="137.0" cy="143.3" r="3.05" fill="#b4111a" stroke="#3a0204" stroke-width="0.75"/>
<circle cx="133.2" cy="141.1" r="3.67" fill="#b4111a" stroke="#3a0204" stroke-width="0.75"/>
<circle cx="143.0" cy="141.1" r="2.44" fill="#b4111a" stroke="#3a0204" stroke-width="0.75"/>
<circle cx="148.5" cy="144.4" r="2.44" fill="#e22e24" stroke="#5a0808" stroke-width="0.75"/>
<circle cx="156.1" cy="140.5" r="1.83" fill="#b4111a" stroke="#3a0204" stroke-width="0.75"/>
<circle cx="142.5" cy="148.2" r="2.44" fill="#b4111a" stroke="#3a0204" stroke-width="0.75"/>
<circle cx="137.0" cy="150.4" r="3.05" fill="#b4111a" stroke="#3a0204" stroke-width="0.75"/>
<circle cx="137.0" cy="154.7" r="3.05" fill="#b4111a" stroke="#3a0204" stroke-width="0.75"/>
<circle cx="136.5" cy="158.0" r="4.89" fill="#b4111a" stroke="#3a0204" stroke-width="0.75"/>
<circle cx="143.0" cy="158.0" r="2.08" fill="#f36a3c"/>
<circle cx="156.6" cy="167.8" r="2.44" fill="#f36a3c"/>
<circle cx="149.5" cy="172.2" r="2.44" fill="#e22e24" stroke="#5a0808" stroke-width="0.75"/>
<circle cx="137.0" cy="176.0" r="4.03" fill="#e22e24" stroke="#5a0808" stroke-width="0.75"/>
<circle cx="153.6" cy="180.1" r="2.44" fill="#fdeee6" stroke="#806060" stroke-width="0.75"/>
<circle cx="150.1" cy="181.5" r="3.05" fill="#b4111a" stroke="#3a0204" stroke-width="0.75"/>
<circle cx="204.7" cy="141.1" r="3.08" fill="#b4111a" stroke="#3a0204" stroke-width="0.75"/>
<circle cx="192.6" cy="148.2" r="3.70" fill="#b4111a" stroke="#3a0204" stroke-width="0.75"/>
<circle cx="187.7" cy="153.2" r="3.08" fill="#e22e24" stroke="#5a0808" stroke-width="0.75"/>
<circle cx="198.1" cy="149.3" r="2.71" fill="#f8b49a" stroke="#7a4a40" stroke-width="0.75"/>
<circle cx="198.1" cy="151.5" r="2.47" fill="#b4111a" stroke="#3a0204" stroke-width="0.75"/>
<circle cx="204.2" cy="149.3" r="1.85" fill="#b4111a" stroke="#3a0204" stroke-width="0.75"/>
<circle cx="194.8" cy="158.7" r="4.93" fill="#f8b49a" stroke="#7a4a40" stroke-width="0.75"/>
<circle cx="194.3" cy="157.0" r="3.70" fill="#f36f45" stroke="#7a3020" stroke-width="0.75"/>
<circle cx="198.1" cy="170.2" r="2.22" fill="#f36a3c"/>
<circle cx="225.1" cy="136.7" r="3.70" fill="#e22e24" stroke="#5a0808" stroke-width="0.75"/>
<circle cx="192.6" cy="135.6" r="3.08" fill="#e22e24" stroke="#5a0808" stroke-width="0.75"/>
<text x="58.5" y="109.0" font-size="5.6" text-anchor="middle" font-weight="normal" fill="#2a2a2a" transform="rotate(-90 58.5 109.0)"><tspan font-style="italic">m/z</tspan></text>
<text x="185.05" y="206.70000000000002" font-size="5.1" text-anchor="middle" font-weight="normal" fill="#111" stroke="#111" stroke-width="0.15">Retention time (minutes)</text>
<path d="M291.8,402.1 V252.8 " fill="none" stroke="#9c9c9c" stroke-width="1.6"/>
<path d="M291.5,252.8 H77 V402.1 H291.5" fill="none" stroke="#6a6a6a" stroke-width="1.1"/>
<polyline points="77.50,326.00 77.75,326.00 78.00,326.00 78.25,326.00 78.50,326.00 78.75,326.00 79.00,326.00 79.25,326.00 79.50,326.00 79.75,326.00 80.00,326.00 80.25,326.00 80.50,326.00 80.75,326.00 81.00,326.00 81.25,326.00 81.50,326.00 81.75,326.00 82.00,326.00 82.25,326.00 82.50,326.00 82.75,325.99 83.00,325.89 83.25,325.37 83.50,323.79 83.75,321.33 84.00,320.00 84.25,321.33 84.50,323.79 84.75,325.37 85.00,325.89 85.25,325.99 85.50,326.00 85.75,326.00 86.00,326.00 86.25,326.00 86.50,326.00 86.75,325.99 87.00,325.89 87.25,325.37 87.50,323.79 87.75,321.33 88.00,320.00 88.25,321.33 88.50,323.79 88.75,325.37 89.00,325.89 89.25,325.99 89.50,326.00 89.75,326.00 90.00,326.00 90.25,326.00 90.50,326.00 90.75,325.99 91.00,325.89 91.25,325.37 91.50,323.79 91.75,321.33 92.00,320.00 92.25,321.33 92.50,323.79 92.75,325.37 93.00,325.89 93.25,325.99 93.50,326.00 93.75,326.00 94.00,326.00 94.25,326.00 94.50,326.00 94.75,325.99 95.00,325.89 95.25,325.37 95.50,323.79 95.75,321.33 96.00,320.00 96.25,321.33 96.50,323.79 96.75,325.37 97.00,325.89 97.25,325.99 97.50,326.00 97.75,326.00 98.00,326.00 98.25,326.00 98.50,326.00 98.75,326.00 99.00,326.00 99.25,326.00 99.50,326.00 99.75,326.00 100.00,326.00 100.25,326.00 100.50,326.00 100.75,326.00 101.00,326.00 101.25,326.00 101.50,326.00 101.75,326.00 102.00,326.00 102.25,326.00 102.50,326.00 102.75,326.00 103.00,326.00 103.25,326.00 103.50,326.00 103.75,326.00 104.00,326.00 104.25,326.00 104.50,326.00 104.75,326.00 105.00,326.00 105.25,326.00 105.50,326.00 105.75,326.00 106.00,326.00 106.25,326.00 106.50,326.00 106.75,326.00 107.00,326.00 107.25,326.00 107.50,326.00 107.75,326.00 108.00,326.00 108.25,326.00 108.50,326.00 108.75,326.00 109.00,326.00 109.25,326.00 109.50,326.00 109.75,326.00 110.00,326.00 110.25,326.00 110.50,326.00 110.75,326.00 111.00,326.00 111.25,326.00 111.50,326.00 111.75,326.00 112.00,326.00 112.25,326.00 112.50,326.00 112.75,326.00 113.00,326.00 113.25,326.00 113.50,326.00 113.75,326.00 114.00,326.00 114.25,326.00 114.50,326.00 114.75,326.00 115.00,326.00 115.25,326.00 115.50,326.00 115.75,326.00 116.00,326.00 116.25,326.00 116.50,326.00 116.75,326.00 117.00,325.98 117.25,325.84 117.50,325.15 117.75,323.33 118.00,320.89 118.25,320.06 118.50,321.81 118.75,324.21 119.00,325.54 119.25,325.93 119.50,325.99 119.75,326.00 120.00,326.00 120.25,326.00 120.50,326.00 120.75,326.00 121.00,326.00 121.25,326.00 121.50,326.00 121.75,326.00 122.00,326.00 122.25,326.00 122.50,326.00 122.75,326.00 123.00,326.00 123.25,326.00 123.50,326.00 123.75,326.00 124.00,326.00 124.25,326.00 124.50,326.00 124.75,326.00 125.00,326.00 125.25,326.00 125.50,326.00 125.75,326.00 126.00,326.00 126.25,326.00 126.50,326.00 126.75,326.00 127.00,326.00 127.25,326.00 127.50,326.00 127.75,326.00 128.00,326.00 128.25,326.00 128.50,326.00 128.75,326.00 129.00,326.00 129.25,326.00 129.50,326.00 129.75,326.00 130.00,326.00 130.25,326.00 130.50,326.00 130.75,326.00 131.00,326.00 131.25,326.00 131.50,325.95 131.75,325.67 132.00,324.58 132.25,322.32 132.50,320.24 132.75,320.52 133.00,322.84 133.25,324.89 133.50,325.77 133.75,325.97 134.00,326.00 134.25,326.00 134.50,326.00 134.75,326.00 135.00,326.00 135.25,326.00 135.50,326.00 135.75,326.00 136.00,326.00 136.25,326.00 136.50,326.00 136.75,326.00 137.00,326.00 137.25,326.00 137.50,326.00 137.75,326.00 138.00,326.00 138.25,326.00 138.50,326.00 138.75,326.00 139.00,326.00 139.25,326.00 139.50,326.00 139.75,326.00 140.00,326.00 140.25,326.00 140.50,326.00 140.75,326.00 141.00,326.00 141.25,326.00 141.50,326.00 141.75,326.00 142.00,326.00 142.25,326.00 142.50,326.00 142.75,326.00 143.00,326.00 143.25,326.00 143.50,326.00 143.75,326.00 144.00,326.00 144.25,326.00 144.50,326.00 144.75,326.00 145.00,326.00 145.25,326.00 145.50,326.00 145.75,326.00 146.00,326.00 146.25,326.00 146.50,326.00 146.75,326.00 147.00,326.00 147.25,326.00 147.50,326.00 147.75,326.00 148.00,326.00 148.25,326.00 148.50,326.00 148.75,326.00 149.00,326.00 149.25,326.00 149.50,326.00 149.75,326.00 150.00,326.00 150.25,326.00 150.50,326.00 150.75,326.00 151.00,326.00 151.25,326.00 151.50,326.00 151.75,326.00 152.00,326.00 152.25,326.00 152.50,326.00 152.75,326.00 153.00,326.00 153.25,326.00 153.50,326.00 153.75,326.00 154.00,326.00 154.25,326.00 154.50,326.00 154.75,326.00 155.00,326.00 155.25,326.00 155.50,326.00 155.75,326.00 156.00,326.00 156.25,326.00 156.50,326.00 156.75,326.00 157.00,326.00 157.25,326.00 157.50,326.00 157.75,326.00 158.00,326.00 158.25,326.00 158.50,326.00 158.75,326.00 159.00,326.00 159.25,326.00 159.50,326.00 159.75,326.00 160.00,326.00 160.25,326.00 160.50,326.00 160.75,326.00 161.00,326.00 161.25,326.00 161.50,326.00 161.75,326.00 162.00,326.00 162.25,326.00 162.50,326.00 162.75,326.00 163.00,326.00 163.25,326.00 163.50,326.00 163.75,326.00 164.00,326.00 164.25,326.00 164.50,326.00 164.75,326.00 165.00,326.00 165.25,326.00 165.50,326.00 165.75,326.00 166.00,326.00 166.25,326.00 166.50,326.00 166.75,326.00 167.00,326.00 167.25,326.00 167.50,326.00 167.75,326.00 168.00,326.00 168.25,326.00 168.50,326.00 168.75,326.00 169.00,326.00 169.25,326.00 169.50,326.00 169.75,326.00 170.00,325.99 170.25,325.99 170.50,325.99 170.75,325.99 171.00,325.99 171.25,325.99 171.50,325.99 171.75,325.99 172.00,325.99 172.25,325.98 172.50,325.98 172.75,325.98 173.00,325.98 173.25,325.97 173.50,325.97 173.75,325.97 174.00,325.95 174.25,325.82 174.50,324.88 174.75,321.53 175.00,316.09 175.25,314.08 175.50,318.23 175.75,323.22 176.00,325.40 176.25,325.84 176.50,325.88 176.75,325.87 177.00,325.85 177.25,325.84 177.50,325.82 177.75,325.80 178.00,325.78 178.25,325.76 178.50,325.74 178.75,325.72 179.00,325.70 179.25,325.67 179.50,325.65 179.75,325.62 180.00,325.60 180.25,325.57 180.50,325.55 180.75,325.53 181.00,325.50 181.25,325.43 181.50,324.95 181.75,322.74 182.00,317.72 182.25,313.54 182.50,315.53 182.75,320.95 183.00,324.28 183.25,325.19 183.50,325.31 183.75,325.31 184.00,325.29 184.25,325.28 184.50,325.28 184.75,325.27 185.00,325.26 185.25,325.25 185.50,325.25 185.75,325.24 186.00,325.24 186.25,325.23 186.50,325.23 186.75,325.22 187.00,325.22 187.25,325.22 187.50,325.22 187.75,325.21 188.00,325.21 188.25,325.21 188.50,325.21 188.75,325.21 189.00,325.20 189.25,325.20 189.50,325.20 189.75,325.20 190.00,325.20 190.25,325.20 190.50,325.19 190.75,325.19 191.00,325.19 191.25,325.19 191.50,325.19 191.75,325.18 192.00,325.18 192.25,325.18 192.50,325.17 192.75,325.17 193.00,325.17 193.25,325.16 193.50,325.16 193.75,325.15 194.00,325.14 194.25,325.14 194.50,325.13 194.75,325.12 195.00,325.11 195.25,325.10 195.50,325.09 195.75,325.07 196.00,325.06 196.25,325.04 196.50,325.02 196.75,325.00 197.00,324.98 197.25,324.96 197.50,324.93 197.75,324.91 198.00,324.88 198.25,324.85 198.50,324.82 198.75,324.78 199.00,324.75 199.25,324.71 199.50,324.67 199.75,324.64 200.00,324.60 200.25,324.56 200.50,324.53 200.75,324.49 201.00,324.45 201.25,324.42 201.50,324.39 201.75,324.35 202.00,324.32 202.25,324.29 202.50,324.27 202.75,324.24 203.00,324.22 203.25,324.20 203.50,324.18 203.75,324.16 204.00,324.14 204.25,324.13 204.50,324.11 204.75,324.10 205.00,324.09 205.25,324.08 205.50,324.07 205.75,324.06 206.00,324.06 206.25,324.05 206.50,324.05 206.75,324.04 207.00,324.04 207.25,324.03 207.50,324.03 207.75,324.03 208.00,324.02 208.25,324.02 208.50,324.02 208.75,324.02 209.00,324.02 209.25,324.02 209.50,324.01 209.75,324.01 210.00,324.01 210.25,324.01 210.50,324.01 210.75,324.01 211.00,324.01 211.25,324.01 211.50,324.01 211.75,324.02 212.00,324.02 212.25,324.02 212.50,324.02 212.75,324.02 213.00,324.02 213.25,324.03 213.50,324.03 213.75,324.03 214.00,324.04 214.25,324.04 214.50,324.05 214.75,324.05 215.00,324.06 215.25,324.07 215.50,324.08 215.75,324.08 216.00,324.10 216.25,324.11 216.50,324.12 216.75,324.14 217.00,324.15 217.25,324.17 217.50,324.19 217.75,324.21 218.00,324.24 218.25,324.27 218.50,324.30 218.75,324.33 219.00,324.36 219.25,324.40 219.50,324.45 219.75,324.49 220.00,324.54 220.25,324.59 220.50,324.64 220.75,324.70 221.00,324.76 221.25,324.81 221.50,324.88 221.75,324.94 222.00,325.00 222.25,325.06 222.50,325.12 222.75,325.19 223.00,325.24 223.25,325.30 223.50,325.36 223.75,325.41 224.00,325.46 224.25,325.51 224.50,325.55 224.75,325.60 225.00,325.64 225.25,325.67 225.50,325.70 225.75,325.73 226.00,325.76 226.25,325.79 226.50,325.81 226.75,325.83 227.00,325.85 227.25,325.86 227.50,325.88 227.75,325.89 228.00,325.91 228.25,325.92 228.50,325.93 228.75,325.93 229.00,325.94 229.25,325.95 229.50,325.95 229.75,325.96 230.00,325.96 230.25,325.97 230.50,325.97 230.75,325.98 231.00,325.98 231.25,325.98 231.50,325.98 231.75,325.98 232.00,325.99 232.25,325.99 232.50,325.99 232.75,325.99 233.00,325.99 233.25,325.99 233.50,325.99 233.75,325.99 234.00,326.00 234.25,326.00 234.50,326.00 234.75,326.00 235.00,326.00 235.25,326.00 235.50,326.00 235.75,326.00 236.00,326.00 236.25,326.00 236.50,326.00 236.75,326.00 237.00,326.00 237.25,326.00 237.50,326.00 237.75,326.00 238.00,326.00 238.25,326.00 238.50,326.00 238.75,326.00 239.00,326.00 239.25,326.00 239.50,326.00 239.75,326.00 240.00,326.00 240.25,326.00 240.50,326.00 240.75,326.00 241.00,326.00 241.25,326.00 241.50,326.00 241.75,326.00 242.00,326.00 242.25,326.00 242.50,326.00 242.75,326.00 243.00,326.00 243.25,326.00 243.50,326.00 243.75,326.00 244.00,326.00 244.25,326.00 244.50,326.00 244.75,326.00 245.00,326.00 245.25,326.00 245.50,326.00 245.75,326.00 246.00,326.00 246.25,326.00 246.50,326.00 246.75,326.00 247.00,326.00 247.25,326.00 247.50,326.00 247.75,326.00 248.00,326.00 248.25,326.00 248.50,326.00 248.75,326.00 249.00,326.00 249.25,326.00 249.50,326.00 249.75,326.00 250.00,326.00 250.25,326.00 250.50,326.00 250.75,326.00 251.00,326.00 251.25,326.00 251.50,326.00 251.75,326.00 252.00,326.00 252.25,326.00 252.50,326.00 252.75,326.00 253.00,326.00 253.25,326.00 253.50,326.00 253.75,326.00 254.00,326.00 254.25,326.00 254.50,326.00 254.75,326.00 255.00,326.00 255.25,326.00 255.50,326.00 255.75,326.00 256.00,326.00 256.25,326.00 256.50,326.00 256.75,326.00 257.00,326.00 257.25,326.00 257.50,326.00 257.75,326.00 258.00,326.00 258.25,326.00 258.50,326.00 258.75,326.00 259.00,326.00 259.25,326.00 259.50,326.00 259.75,326.00 260.00,326.00 260.25,326.00 260.50,325.99 260.75,325.99 261.00,325.99 261.25,325.99 261.50,325.98 261.75,325.97 262.00,325.96 262.25,325.94 262.50,325.91 262.75,325.87 263.00,325.82 263.25,325.74 263.50,325.63 263.75,325.48 264.00,325.25 264.25,324.93 264.50,324.47 264.75,323.81 265.00,322.87 265.25,321.53 265.50,318.39 265.75,318.85 266.00,319.28 266.25,319.69 266.50,320.07 266.75,320.43 267.00,320.77 267.25,321.09 267.50,321.38 267.75,321.66 268.00,321.93 268.25,322.17 268.50,322.41 268.75,322.62 269.00,322.83 269.25,323.02 269.50,323.20 269.75,323.37 270.00,323.53 270.25,323.68 270.50,323.82 270.75,323.95 271.00,324.08 271.25,324.19 271.50,324.30 271.75,324.40 272.00,324.50 272.25,324.59 272.50,324.68 272.75,324.76 273.00,324.83 273.25,324.90 273.50,324.97 273.75,325.03 274.00,325.09 274.25,325.15 274.50,325.20 274.75,325.25 275.00,325.29 275.25,325.34 275.50,325.38 275.75,325.41 276.00,325.45 276.25,325.48 276.50,325.51 276.75,325.54 277.00,325.57 277.25,325.60 277.50,325.62 277.75,325.64 278.00,325.67 278.25,325.69 278.50,325.70 278.75,325.72 279.00,325.74 279.25,325.76 279.50,325.77 279.75,325.78 280.00,325.80 280.25,325.81 280.50,325.82 280.75,325.83 281.00,325.84 281.25,325.85 281.50,325.86 281.75,325.87 282.00,325.88 282.25,325.88 282.50,325.89 282.75,325.90 283.00,325.90 283.25,325.91 283.50,325.92 283.75,325.92 284.00,325.93 284.25,325.93 284.50,325.93 284.75,325.94 285.00,325.94 285.25,325.95 285.50,325.95 285.75,325.95 286.00,325.95 286.25,325.96 286.50,325.96 286.75,325.96 287.00,325.96 287.25,325.97 287.50,325.97 287.75,325.97 288.00,325.97 288.25,325.97 288.50,325.98 288.75,325.98 289.00,325.98 289.25,325.98 289.50,325.98 289.75,325.98 290.00,325.98 290.25,325.98 290.50,325.99 290.75,325.99 291.00,325.99" fill="none" stroke="#bfbfbf" stroke-width="1.1"/><polyline points="77.50,328.80 77.75,328.80 78.00,328.80 78.25,328.80 78.50,328.80 78.75,328.80 79.00,328.80 79.25,328.80 79.50,328.80 79.75,328.80 80.00,328.80 80.25,328.80 80.50,328.80 80.75,328.80 81.00,328.80 81.25,328.80 81.50,328.80 81.75,328.80 82.00,328.80 82.25,328.80 82.50,328.80 82.75,328.81 83.00,328.91 83.25,329.43 83.50,331.01 83.75,333.47 84.00,334.80 84.25,333.47 84.50,331.01 84.75,329.43 85.00,328.91 85.25,328.81 85.50,328.80 85.75,328.80 86.00,328.80 86.25,328.80 86.50,328.80 86.75,328.81 87.00,328.91 87.25,329.43 87.50,331.01 87.75,333.47 88.00,334.80 88.25,333.47 88.50,331.01 88.75,329.43 89.00,328.91 89.25,328.81 89.50,328.80 89.75,328.80 90.00,328.80 90.25,328.80 90.50,328.80 90.75,328.81 91.00,328.91 91.25,329.43 91.50,331.01 91.75,333.47 92.00,334.80 92.25,333.47 92.50,331.01 92.75,329.43 93.00,328.91 93.25,328.81 93.50,328.80 93.75,328.80 94.00,328.80 94.25,328.80 94.50,328.80 94.75,328.81 95.00,328.91 95.25,329.43 95.50,331.01 95.75,333.47 96.00,334.80 96.25,333.47 96.50,331.01 96.75,329.43 97.00,328.91 97.25,328.81 97.50,328.80 97.75,328.80 98.00,328.80 98.25,328.80 98.50,328.80 98.75,328.80 99.00,328.80 99.25,328.80 99.50,328.80 99.75,328.80 100.00,328.80 100.25,328.80 100.50,328.80 100.75,328.80 101.00,328.80 101.25,328.80 101.50,328.80 101.75,328.80 102.00,328.80 102.25,328.80 102.50,328.80 102.75,328.80 103.00,328.80 103.25,328.80 103.50,328.80 103.75,328.80 104.00,328.80 104.25,328.80 104.50,328.80 104.75,328.80 105.00,328.80 105.25,328.80 105.50,328.80 105.75,328.80 106.00,328.80 106.25,328.80 106.50,328.80 106.75,328.80 107.00,328.80 107.25,328.80 107.50,328.80 107.75,328.80 108.00,328.80 108.25,328.80 108.50,328.80 108.75,328.80 109.00,328.80 109.25,328.80 109.50,328.80 109.75,328.80 110.00,328.80 110.25,328.80 110.50,328.80 110.75,328.80 111.00,328.80 111.25,328.80 111.50,328.80 111.75,328.80 112.00,328.80 112.25,328.80 112.50,328.80 112.75,328.80 113.00,328.80 113.25,328.80 113.50,328.80 113.75,328.80 114.00,328.80 114.25,328.80 114.50,328.80 114.75,328.80 115.00,328.80 115.25,328.80 115.50,328.80 115.75,328.80 116.00,328.80 116.25,328.80 116.50,328.80 116.75,328.80 117.00,328.82 117.25,328.96 117.50,329.65 117.75,331.47 118.00,333.91 118.25,334.74 118.50,332.99 118.75,330.59 119.00,329.26 119.25,328.87 119.50,328.81 119.75,328.80 120.00,328.80 120.25,328.80 120.50,328.80 120.75,328.80 121.00,328.80 121.25,328.80 121.50,328.80 121.75,328.80 122.00,328.80 122.25,328.80 122.50,328.80 122.75,328.80 123.00,328.80 123.25,328.80 123.50,328.80 123.75,328.80 124.00,328.80 124.25,328.80 124.50,328.80 124.75,328.80 125.00,328.80 125.25,328.80 125.50,328.80 125.75,328.80 126.00,328.80 126.25,328.80 126.50,328.80 126.75,328.80 127.00,328.80 127.25,328.80 127.50,328.80 127.75,328.80 128.00,328.80 128.25,328.80 128.50,328.80 128.75,328.80 129.00,328.80 129.25,328.80 129.50,328.80 129.75,328.80 130.00,328.80 130.25,328.80 130.50,328.80 130.75,328.80 131.00,328.80 131.25,328.80 131.50,328.85 131.75,329.13 132.00,330.22 132.25,332.48 132.50,334.56 132.75,334.28 133.00,331.96 133.25,329.91 133.50,329.03 133.75,328.83 134.00,328.80 134.25,328.80 134.50,328.80 134.75,328.80 135.00,328.80 135.25,328.80 135.50,328.80 135.75,328.80 136.00,328.80 136.25,328.80 136.50,328.80 136.75,328.80 137.00,328.80 137.25,328.80 137.50,328.80 137.75,328.80 138.00,328.80 138.25,328.80 138.50,328.80 138.75,328.80 139.00,328.80 139.25,328.80 139.50,328.80 139.75,328.80 140.00,328.80 140.25,328.80 140.50,328.80 140.75,328.80 141.00,328.80 141.25,328.80 141.50,328.80 141.75,328.80 142.00,328.80 142.25,328.80 142.50,328.80 142.75,328.80 143.00,328.80 143.25,328.80 143.50,328.80 143.75,328.80 144.00,328.80 144.25,328.80 144.50,328.80 144.75,328.80 145.00,328.80 145.25,328.80 145.50,328.80 145.75,328.80 146.00,328.80 146.25,328.80 146.50,328.80 146.75,328.80 147.00,328.80 147.25,328.80 147.50,328.80 147.75,328.80 148.00,328.80 148.25,328.80 148.50,328.80 148.75,328.80 149.00,328.80 149.25,328.80 149.50,328.80 149.75,328.80 150.00,328.80 150.25,328.80 150.50,328.80 150.75,328.80 151.00,328.80 151.25,328.80 151.50,328.80 151.75,328.80 152.00,328.80 152.25,328.80 152.50,328.80 152.75,328.80 153.00,328.80 153.25,328.80 153.50,328.80 153.75,328.80 154.00,328.80 154.25,328.80 154.50,328.80 154.75,328.80 155.00,328.80 155.25,328.80 155.50,328.80 155.75,328.80 156.00,328.80 156.25,328.80 156.50,328.80 156.75,328.80 157.00,328.80 157.25,328.80 157.50,328.80 157.75,328.80 158.00,328.80 158.25,328.80 158.50,328.80 158.75,328.80 159.00,328.80 159.25,328.80 159.50,328.80 159.75,328.80 160.00,328.80 160.25,328.80 160.50,328.80 160.75,328.80 161.00,328.80 161.25,328.80 161.50,328.80 161.75,328.80 162.00,328.80 162.25,328.80 162.50,328.80 162.75,328.80 163.00,328.80 163.25,328.80 163.50,328.80 163.75,328.80 164.00,328.80 164.25,328.80 164.50,328.80 164.75,328.80 165.00,328.80 165.25,328.80 165.50,328.80 165.75,328.80 166.00,328.80 166.25,328.80 166.50,328.80 166.75,328.80 167.00,328.80 167.25,328.80 167.50,328.80 167.75,328.80 168.00,328.80 168.25,328.80 168.50,328.80 168.75,328.80 169.00,328.80 169.25,328.80 169.50,328.80 169.75,328.80 170.00,328.81 170.25,328.81 170.50,328.81 170.75,328.81 171.00,328.81 171.25,328.81 171.50,328.81 171.75,328.81 172.00,328.81 172.25,328.82 172.50,328.82 172.75,328.82 173.00,328.82 173.25,328.83 173.50,328.83 173.75,328.83 174.00,328.85 174.25,328.98 174.50,329.92 174.75,333.27 175.00,338.71 175.25,340.72 175.50,336.57 175.75,331.58 176.00,329.40 176.25,328.96 176.50,328.92 176.75,328.93 177.00,328.95 177.25,328.96 177.50,328.98 177.75,329.00 178.00,329.02 178.25,329.04 178.50,329.06 178.75,329.08 179.00,329.10 179.25,329.13 179.50,329.15 179.75,329.18 180.00,329.20 180.25,329.23 180.50,329.25 180.75,329.27 181.00,329.30 181.25,329.37 181.50,329.85 181.75,332.06 182.00,337.08 182.25,341.26 182.50,339.27 182.75,333.85 183.00,330.52 183.25,329.61 183.50,329.49 183.75,329.49 184.00,329.51 184.25,329.52 184.50,329.52 184.75,329.53 185.00,329.54 185.25,329.55 185.50,329.55 185.75,329.56 186.00,329.56 186.25,329.57 186.50,329.57 186.75,329.58 187.00,329.58 187.25,329.58 187.50,329.58 187.75,329.59 188.00,329.59 188.25,329.59 188.50,329.59 188.75,329.59 189.00,329.60 189.25,329.60 189.50,329.60 189.75,329.60 190.00,329.60 190.25,329.60 190.50,329.61 190.75,329.61 191.00,329.61 191.25,329.61 191.50,329.61 191.75,329.62 192.00,329.62 192.25,329.62 192.50,329.63 192.75,329.63 193.00,329.63 193.25,329.64 193.50,329.64 193.75,329.65 194.00,329.66 194.25,329.66 194.50,329.67 194.75,329.68 195.00,329.69 195.25,329.70 195.50,329.71 195.75,329.73 196.00,329.74 196.25,329.76 196.50,329.78 196.75,329.80 197.00,329.82 197.25,329.84 197.50,329.87 197.75,329.89 198.00,329.92 198.25,329.95 198.50,329.98 198.75,330.02 199.00,330.05 199.25,330.09 199.50,330.13 199.75,330.16 200.00,330.20 200.25,330.24 200.50,330.27 200.75,330.31 201.00,330.35 201.25,330.38 201.50,330.41 201.75,330.45 202.00,330.48 202.25,330.51 202.50,330.53 202.75,330.56 203.00,330.58 203.25,330.60 203.50,330.62 203.75,330.64 204.00,330.66 204.25,330.67 204.50,330.69 204.75,330.70 205.00,330.71 205.25,330.72 205.50,330.73 205.75,330.74 206.00,330.74 206.25,330.75 206.50,330.75 206.75,330.76 207.00,330.76 207.25,330.77 207.50,330.77 207.75,330.77 208.00,330.78 208.25,330.78 208.50,330.78 208.75,330.78 209.00,330.78 209.25,330.78 209.50,330.79 209.75,330.79 210.00,330.79 210.25,330.79 210.50,330.79 210.75,330.79 211.00,330.79 211.25,330.79 211.50,330.79 211.75,330.78 212.00,330.78 212.25,330.78 212.50,330.78 212.75,330.78 213.00,330.78 213.25,330.77 213.50,330.77 213.75,330.77 214.00,330.76 214.25,330.76 214.50,330.75 214.75,330.75 215.00,330.74 215.25,330.73 215.50,330.72 215.75,330.72 216.00,330.70 216.25,330.69 216.50,330.68 216.75,330.66 217.00,330.65 217.25,330.63 217.50,330.61 217.75,330.59 218.00,330.56 218.25,330.53 218.50,330.50 218.75,330.47 219.00,330.44 219.25,330.40 219.50,330.35 219.75,330.31 220.00,330.26 220.25,330.21 220.50,330.16 220.75,330.10 221.00,330.04 221.25,329.99 221.50,329.92 221.75,329.86 222.00,329.80 222.25,329.74 222.50,329.68 222.75,329.61 223.00,329.56 223.25,329.50 223.50,329.44 223.75,329.39 224.00,329.34 224.25,329.29 224.50,329.25 224.75,329.20 225.00,329.16 225.25,329.13 225.50,329.10 225.75,329.07 226.00,329.04 226.25,329.01 226.50,328.99 226.75,328.97 227.00,328.95 227.25,328.94 227.50,328.92 227.75,328.91 228.00,328.89 228.25,328.88 228.50,328.87 228.75,328.87 229.00,328.86 229.25,328.85 229.50,328.85 229.75,328.84 230.00,328.84 230.25,328.83 230.50,328.83 230.75,328.82 231.00,328.82 231.25,328.82 231.50,328.82 231.75,328.82 232.00,328.81 232.25,328.81 232.50,328.81 232.75,328.81 233.00,328.81 233.25,328.81 233.50,328.81 233.75,328.81 234.00,328.80 234.25,328.80 234.50,328.80 234.75,328.80 235.00,328.80 235.25,328.80 235.50,328.80 235.75,328.80 236.00,328.80 236.25,328.80 236.50,328.80 236.75,328.80 237.00,328.80 237.25,328.80 237.50,328.80 237.75,328.80 238.00,328.80 238.25,328.80 238.50,328.80 238.75,328.80 239.00,328.80 239.25,328.80 239.50,328.80 239.75,328.80 240.00,328.80 240.25,328.80 240.50,328.80 240.75,328.80 241.00,328.80 241.25,328.80 241.50,328.80 241.75,328.80 242.00,328.80 242.25,328.80 242.50,328.80 242.75,328.80 243.00,328.80 243.25,328.80 243.50,328.80 243.75,328.80 244.00,328.80 244.25,328.80 244.50,328.80 244.75,328.80 245.00,328.80 245.25,328.80 245.50,328.80 245.75,328.80 246.00,328.80 246.25,328.80 246.50,328.80 246.75,328.80 247.00,328.80 247.25,328.80 247.50,328.80 247.75,328.80 248.00,328.80 248.25,328.80 248.50,328.80 248.75,328.80 249.00,328.80 249.25,328.80 249.50,328.80 249.75,328.80 250.00,328.80 250.25,328.80 250.50,328.80 250.75,328.80 251.00,328.80 251.25,328.80 251.50,328.80 251.75,328.80 252.00,328.80 252.25,328.80 252.50,328.80 252.75,328.80 253.00,328.80 253.25,328.80 253.50,328.80 253.75,328.80 254.00,328.80 254.25,328.80 254.50,328.80 254.75,328.80 255.00,328.80 255.25,328.80 255.50,328.80 255.75,328.80 256.00,328.80 256.25,328.80 256.50,328.80 256.75,328.80 257.00,328.80 257.25,328.80 257.50,328.80 257.75,328.80 258.00,328.80 258.25,328.80 258.50,328.80 258.75,328.80 259.00,328.80 259.25,328.80 259.50,328.80 259.75,328.80 260.00,328.80 260.25,328.80 260.50,328.81 260.75,328.81 261.00,328.81 261.25,328.81 261.50,328.82 261.75,328.83 262.00,328.84 262.25,328.86 262.50,328.89 262.75,328.93 263.00,328.98 263.25,329.06 263.50,329.17 263.75,329.32 264.00,329.55 264.25,329.87 264.50,330.33 264.75,330.99 265.00,331.93 265.25,333.27 265.50,336.41 265.75,335.95 266.00,335.52 266.25,335.11 266.50,334.73 266.75,334.37 267.00,334.03 267.25,333.71 267.50,333.42 267.75,333.14 268.00,332.87 268.25,332.63 268.50,332.39 268.75,332.18 269.00,331.97 269.25,331.78 269.50,331.60 269.75,331.43 270.00,331.27 270.25,331.12 270.50,330.98 270.75,330.85 271.00,330.72 271.25,330.61 271.50,330.50 271.75,330.40 272.00,330.30 272.25,330.21 272.50,330.12 272.75,330.04 273.00,329.97 273.25,329.90 273.50,329.83 273.75,329.77 274.00,329.71 274.25,329.65 274.50,329.60 274.75,329.55 275.00,329.51 275.25,329.46 275.50,329.42 275.75,329.39 276.00,329.35 276.25,329.32 276.50,329.29 276.75,329.26 277.00,329.23 277.25,329.20 277.50,329.18 277.75,329.16 278.00,329.13 278.25,329.11 278.50,329.10 278.75,329.08 279.00,329.06 279.25,329.04 279.50,329.03 279.75,329.02 280.00,329.00 280.25,328.99 280.50,328.98 280.75,328.97 281.00,328.96 281.25,328.95 281.50,328.94 281.75,328.93 282.00,328.92 282.25,328.92 282.50,328.91 282.75,328.90 283.00,328.90 283.25,328.89 283.50,328.88 283.75,328.88 284.00,328.87 284.25,328.87 284.50,328.87 284.75,328.86 285.00,328.86 285.25,328.85 285.50,328.85 285.75,328.85 286.00,328.85 286.25,328.84 286.50,328.84 286.75,328.84 287.00,328.84 287.25,328.83 287.50,328.83 287.75,328.83 288.00,328.83 288.25,328.83 288.50,328.82 288.75,328.82 289.00,328.82 289.25,328.82 289.50,328.82 289.75,328.82 290.00,328.82 290.25,328.82 290.50,328.81 290.75,328.81 291.00,328.81" fill="none" stroke="#bfbfbf" stroke-width="1.1"/><line x1="265.3" y1="253.8" x2="265.3" y2="402.1" stroke="#d6d6d6" stroke-width="1.8"/>
<line x1="74" y1="270.4" x2="77" y2="270.4" stroke="#666" stroke-width="0.7"/>
<text x="72.3" y="270.4" font-size="6.0" text-anchor="middle" font-weight="normal" fill="#1a1a1a" stroke="#1a1a1a" stroke-width="0.12" transform="rotate(-90 72.3 270.4)">600</text>
<line x1="74" y1="289.4" x2="77" y2="289.4" stroke="#666" stroke-width="0.7"/>
<text x="72.3" y="289.4" font-size="6.0" text-anchor="middle" font-weight="normal" fill="#1a1a1a" stroke="#1a1a1a" stroke-width="0.12" transform="rotate(-90 72.3 289.4)">400</text>
<line x1="74" y1="308.4" x2="77" y2="308.4" stroke="#666" stroke-width="0.7"/>
<text x="72.3" y="308.4" font-size="6.0" text-anchor="middle" font-weight="normal" fill="#1a1a1a" stroke="#1a1a1a" stroke-width="0.12" transform="rotate(-90 72.3 308.4)">200</text>
<line x1="74" y1="327.4" x2="77" y2="327.4" stroke="#666" stroke-width="0.7"/>
<text x="72.3" y="327.4" font-size="6.0" text-anchor="middle" font-weight="normal" fill="#1a1a1a" stroke="#1a1a1a" stroke-width="0.12" transform="rotate(-90 72.3 327.4)">0</text>
<line x1="74" y1="346.4" x2="77" y2="346.4" stroke="#666" stroke-width="0.7"/>
<text x="72.3" y="346.4" font-size="6.0" text-anchor="middle" font-weight="normal" fill="#1a1a1a" stroke="#1a1a1a" stroke-width="0.12" transform="rotate(-90 72.3 346.4)">200</text>
<line x1="74" y1="365.4" x2="77" y2="365.4" stroke="#666" stroke-width="0.7"/>
<text x="72.3" y="365.4" font-size="6.0" text-anchor="middle" font-weight="normal" fill="#1a1a1a" stroke="#1a1a1a" stroke-width="0.12" transform="rotate(-90 72.3 365.4)">400</text>
<line x1="74" y1="384.4" x2="77" y2="384.4" stroke="#666" stroke-width="0.7"/>
<text x="72.3" y="384.4" font-size="6.0" text-anchor="middle" font-weight="normal" fill="#1a1a1a" stroke="#1a1a1a" stroke-width="0.12" transform="rotate(-90 72.3 384.4)">600</text>
<line x1="130.625" y1="402.1" x2="130.625" y2="405.1" stroke="#666" stroke-width="0.7"/>
<text x="130.625" y="414.1" font-size="5.8" text-anchor="middle" font-weight="normal" fill="#1a1a1a" stroke="#1a1a1a" stroke-width="0.12">5</text>
<line x1="184.25" y1="402.1" x2="184.25" y2="405.1" stroke="#666" stroke-width="0.7"/>
<text x="184.25" y="414.1" font-size="5.8" text-anchor="middle" font-weight="normal" fill="#1a1a1a" stroke="#1a1a1a" stroke-width="0.12">10</text>
<line x1="237.875" y1="402.1" x2="237.875" y2="405.1" stroke="#666" stroke-width="0.7"/>
<text x="237.875" y="414.1" font-size="5.8" text-anchor="middle" font-weight="normal" fill="#1a1a1a" stroke="#1a1a1a" stroke-width="0.12">15</text>
<line x1="291.5" y1="402.1" x2="291.5" y2="405.1" stroke="#666" stroke-width="0.7"/>
<text x="291.5" y="414.1" font-size="5.8" text-anchor="middle" font-weight="normal" fill="#1a1a1a" stroke="#1a1a1a" stroke-width="0.12">20</text>
<circle cx="84.5" cy="268.0" r="3.45" fill="#0b7a2c" stroke="#022a0c" stroke-width="0.75"/>
<circle cx="84.5" cy="274.6" r="3.45" fill="#0b7a2c" stroke="#022a0c" stroke-width="0.75"/>
<circle cx="84.5" cy="280.9" r="3.45" fill="#0b7a2c" stroke="#022a0c" stroke-width="0.75"/>
<circle cx="84.5" cy="287.2" r="3.45" fill="#3fae5f" stroke="#123a20" stroke-width="0.75"/>
<circle cx="84.5" cy="293.6" r="3.45" fill="#3fae5f" stroke="#123a20" stroke-width="0.75"/>
<circle cx="105.9" cy="283.4" r="4.69" fill="#eef8ec" stroke="#606060" stroke-width="0.75"/>
<circle cx="128.5" cy="282.8" r="3.70" fill="#3fae5f" stroke="#123a20" stroke-width="0.75"/>
<circle cx="132.1" cy="285.6" r="3.70" fill="#3fae5f" stroke="#123a20" stroke-width="0.75"/>
<circle cx="131.0" cy="288.9" r="3.08" fill="#3fae5f" stroke="#123a20" stroke-width="0.75"/>
<circle cx="130.4" cy="295.0" r="3.70" fill="#b5e6b0" stroke="#5f7f5f" stroke-width="0.75"/>
<circle cx="88.6" cy="299.9" r="3.08" fill="#0b7a2c" stroke="#022a0c" stroke-width="0.75"/>
<circle cx="94.6" cy="298.3" r="3.08" fill="#b5e6b0" stroke="#5f7f5f" stroke-width="0.75"/>
<circle cx="107.8" cy="298.3" r="4.32" fill="#eef8ec" stroke="#606060" stroke-width="0.75"/>
<circle cx="123.3" cy="300.5" r="2.47" fill="#b5e6b0" stroke="#5f7f5f" stroke-width="0.75"/>
<circle cx="132.1" cy="300.5" r="3.08" fill="#0b7a2c" stroke="#022a0c" stroke-width="0.75"/>
<circle cx="136.5" cy="299.4" r="2.47" fill="#3fae5f" stroke="#123a20" stroke-width="0.75"/>
<circle cx="88.8" cy="300.7" r="3.42" fill="#3fae5f" stroke="#123a20" stroke-width="0.75"/>
<circle cx="94.5" cy="299.3" r="3.42" fill="#b5e6b0" stroke="#5f7f5f" stroke-width="0.75"/>
<circle cx="85.7" cy="304.2" r="3.05" fill="#b5e6b0" stroke="#5f7f5f" stroke-width="0.75"/>
<circle cx="81.9" cy="307.5" r="2.69" fill="#b5e6b0" stroke="#5f7f5f" stroke-width="0.75"/>
<circle cx="97.2" cy="303.6" r="3.67" fill="#3fae5f" stroke="#123a20" stroke-width="0.75"/>
<circle cx="92.3" cy="306.9" r="3.67" fill="#b5e6b0" stroke="#5f7f5f" stroke-width="0.75"/>
<circle cx="102.1" cy="301.5" r="3.05" fill="#b5e6b0"/>
<circle cx="108.6" cy="298.7" r="4.28" fill="#eef8ec" stroke="#606060" stroke-width="0.75"/>
<circle cx="110.8" cy="302.5" r="3.67" fill="#b5e6b0" stroke="#5f7f5f" stroke-width="0.75"/>
<circle cx="105.9" cy="304.7" r="3.42" fill="#0b7a2c" stroke="#022a0c" stroke-width="0.75"/>
<circle cx="112.5" cy="306.1" r="3.42" fill="#3fae5f" stroke="#123a20" stroke-width="0.75"/>
<circle cx="84.6" cy="312.9" r="4.28" fill="#0b7a2c" stroke="#022a0c" stroke-width="0.75"/>
<circle cx="86.3" cy="317.3" r="2.44" fill="#0b7a2c" stroke="#022a0c" stroke-width="0.75"/>
<circle cx="91.2" cy="315.1" r="2.69" fill="#b5e6b0" stroke="#5f7f5f" stroke-width="0.75"/>
<circle cx="97.2" cy="311.8" r="3.42" fill="#0b7a2c" stroke="#022a0c" stroke-width="0.75"/>
<circle cx="101.0" cy="314.5" r="3.05" fill="#b5e6b0" stroke="#5f7f5f" stroke-width="0.75"/>
<circle cx="105.6" cy="311.3" r="4.28" fill="#0b7a2c" stroke="#022a0c" stroke-width="0.75"/>
<circle cx="112.5" cy="313.5" r="3.91" fill="#0b7a2c" stroke="#022a0c" stroke-width="0.75"/>
<circle cx="120.1" cy="309.6" r="2.69" fill="#b5e6b0" stroke="#5f7f5f" stroke-width="0.75"/>
<circle cx="122.8" cy="302.5" r="3.67" fill="#b5e6b0"/>
<circle cx="126.1" cy="305.3" r="3.67" fill="#3fae5f" stroke="#123a20" stroke-width="0.75"/>
<circle cx="131.0" cy="303.6" r="5.50" fill="#3fae5f" stroke="#123a20" stroke-width="0.75"/>
<circle cx="132.1" cy="310.2" r="4.28" fill="#0b7a2c" stroke="#022a0c" stroke-width="0.75"/>
<circle cx="125.0" cy="311.3" r="3.67" fill="#b5e6b0" stroke="#5f7f5f" stroke-width="0.75"/>
<circle cx="131.0" cy="294.9" r="3.67" fill="#b5e6b0"/>
<circle cx="135.9" cy="297.6" r="2.44" fill="#3fae5f" stroke="#123a20" stroke-width="0.75"/>
<circle cx="131.5" cy="290.5" r="2.44" fill="#3fae5f" stroke="#123a20" stroke-width="0.75"/>
<circle cx="167.8" cy="266.1" r="3.95" fill="#2ea552"/>
<circle cx="174.4" cy="264.1" r="3.45" fill="#eef8ec" stroke="#606060" stroke-width="0.75"/>
<circle cx="178.3" cy="266.3" r="3.95" fill="#b5e6b0" stroke="#5f7f5f" stroke-width="0.75"/>
<circle cx="184.4" cy="267.4" r="4.32" fill="#b5e6b0" stroke="#5f7f5f" stroke-width="0.75"/>
<circle cx="181.1" cy="267.4" r="3.08" fill="#3fae5f" stroke="#123a20" stroke-width="0.75"/>
<circle cx="181.1" cy="273.5" r="3.70" fill="#3fae5f" stroke="#123a20" stroke-width="0.75"/>
<circle cx="157.4" cy="276.8" r="6.78" fill="#0b7a2c" stroke="#022a0c" stroke-width="0.75"/>
<circle cx="157.4" cy="285.0" r="4.93" fill="#0b7a2c" stroke="#022a0c" stroke-width="0.75"/>
<circle cx="154.6" cy="288.3" r="6.17" fill="#3fae5f" stroke="#123a20" stroke-width="0.75"/>
<circle cx="160.7" cy="290.5" r="5.18" fill="#3fae5f" stroke="#123a20" stroke-width="0.75"/>
<circle cx="165.1" cy="279.0" r="2.71" fill="#b5e6b0" stroke="#5f7f5f" stroke-width="0.75"/>
<circle cx="168.4" cy="283.9" r="3.70" fill="#0b7a2c" stroke="#022a0c" stroke-width="0.75"/>
<circle cx="171.1" cy="291.1" r="3.70" fill="#3fae5f" stroke="#123a20" stroke-width="0.75"/>
<circle cx="173.3" cy="286.1" r="3.08" fill="#b5e6b0" stroke="#5f7f5f" stroke-width="0.75"/>
<circle cx="181.1" cy="283.4" r="3.95" fill="#3fae5f" stroke="#123a20" stroke-width="0.75"/>
<circle cx="181.1" cy="292.7" r="3.70" fill="#0b7a2c" stroke="#022a0c" stroke-width="0.75"/>
<circle cx="182.2" cy="297.2" r="3.08" fill="#0b7a2c" stroke="#022a0c" stroke-width="0.75"/>
<circle cx="187.7" cy="291.6" r="3.08" fill="#b5e6b0" stroke="#5f7f5f" stroke-width="0.75"/>
<circle cx="189.9" cy="282.8" r="3.45" fill="#3fae5f" stroke="#123a20" stroke-width="0.75"/>
<circle cx="193.2" cy="287.2" r="3.70" fill="#0b7a2c" stroke="#022a0c" stroke-width="0.75"/>
<circle cx="194.3" cy="294.4" r="3.70" fill="#0b7a2c" stroke="#022a0c" stroke-width="0.75"/>
<circle cx="187.7" cy="297.7" r="3.08" fill="#3fae5f" stroke="#123a20" stroke-width="0.75"/>
<circle cx="196.5" cy="268.5" r="3.08" fill="#3fae5f" stroke="#123a20" stroke-width="0.75"/>
<circle cx="195.9" cy="273.5" r="3.08" fill="#3fae5f" stroke="#123a20" stroke-width="0.75"/>
<circle cx="144.7" cy="295.0" r="3.70" fill="#b5e6b0" stroke="#5f7f5f" stroke-width="0.75"/>
<circle cx="141.4" cy="299.9" r="4.93" fill="#0b7a2c" stroke="#022a0c" stroke-width="0.75"/>
<circle cx="162.3" cy="297.7" r="3.70" fill="#0b7a2c" stroke="#022a0c" stroke-width="0.75"/>
<circle cx="168.9" cy="298.3" r="3.70" fill="#3fae5f" stroke="#123a20" stroke-width="0.75"/>
<circle cx="176.6" cy="298.3" r="3.70" fill="#3fae5f" stroke="#123a20" stroke-width="0.75"/>
<circle cx="226.2" cy="254.8" r="2.71" fill="#2ea552"/>
<circle cx="218.5" cy="270.2" r="2.71" fill="#2ea552"/>
<circle cx="226.7" cy="269.6" r="3.08" fill="#b5e6b0"/>
<circle cx="231.1" cy="268.5" r="4.93" fill="#eef8ec" stroke="#606060" stroke-width="0.75"/>
<circle cx="229.5" cy="274.0" r="2.47" fill="#2ea552"/>
<circle cx="198.7" cy="271.8" r="4.32" fill="#3fae5f" stroke="#123a20" stroke-width="0.75"/>
<circle cx="199.2" cy="281.7" r="4.32" fill="#3fae5f" stroke="#123a20" stroke-width="0.75"/>
<circle cx="202.5" cy="288.3" r="3.95" fill="#0b7a2c" stroke="#022a0c" stroke-width="0.75"/>
<circle cx="209.1" cy="286.7" r="3.70" fill="#3fae5f" stroke="#123a20" stroke-width="0.75"/>
<circle cx="215.2" cy="280.6" r="4.93" fill="#0b7a2c" stroke="#022a0c" stroke-width="0.75"/>
<circle cx="215.7" cy="286.1" r="4.32" fill="#0b7a2c" stroke="#022a0c" stroke-width="0.75"/>
<circle cx="218.5" cy="276.8" r="3.08" fill="#3fae5f" stroke="#123a20" stroke-width="0.75"/>
<circle cx="225.1" cy="279.5" r="3.95" fill="#3fae5f" stroke="#123a20" stroke-width="0.75"/>
<circle cx="225.6" cy="286.1" r="4.32" fill="#0b7a2c" stroke="#022a0c" stroke-width="0.75"/>
<circle cx="225.6" cy="291.1" r="2.71" fill="#3fae5f" stroke="#123a20" stroke-width="0.75"/>
<circle cx="232.2" cy="282.8" r="3.08" fill="#3fae5f" stroke="#123a20" stroke-width="0.75"/>
<circle cx="232.2" cy="291.6" r="2.71" fill="#0b7a2c" stroke="#022a0c" stroke-width="0.75"/>
<circle cx="236.1" cy="286.1" r="3.08" fill="#b5e6b0" stroke="#5f7f5f" stroke-width="0.75"/>
<circle cx="243.3" cy="282.8" r="6.17" fill="#0b7a2c" stroke="#022a0c" stroke-width="0.75"/>
<circle cx="245.5" cy="288.3" r="4.32" fill="#3fae5f" stroke="#123a20" stroke-width="0.75"/>
<circle cx="247.1" cy="294.4" r="2.71" fill="#3fae5f" stroke="#123a20" stroke-width="0.75"/>
<circle cx="246.6" cy="297.2" r="3.08" fill="#0b7a2c" stroke="#022a0c" stroke-width="0.75"/>
<circle cx="210.2" cy="296.1" r="3.70" fill="#0b7a2c" stroke="#022a0c" stroke-width="0.75"/>
<circle cx="222.3" cy="296.1" r="3.70" fill="#0b7a2c" stroke="#022a0c" stroke-width="0.75"/>
<circle cx="234.4" cy="297.2" r="3.45" fill="#0b7a2c" stroke="#022a0c" stroke-width="0.75"/>
<circle cx="199.2" cy="296.1" r="3.70" fill="#0b7a2c" stroke="#022a0c" stroke-width="0.75"/>
<circle cx="225.6" cy="300.5" r="3.08" fill="#0b7a2c" stroke="#022a0c" stroke-width="0.75"/>
<circle cx="214.6" cy="299.4" r="2.47" fill="#b5e6b0" stroke="#5f7f5f" stroke-width="0.75"/>
<circle cx="246.9" cy="295.8" r="3.26" fill="#0b7a2c" stroke="#022a0c" stroke-width="0.75"/>
<circle cx="246.9" cy="309.0" r="3.70" fill="#3fae5f" stroke="#123a20" stroke-width="0.75"/>
<circle cx="278.2" cy="308.6" r="3.26" fill="#3fae5f" stroke="#123a20" stroke-width="0.75"/>
<circle cx="284.6" cy="315.3" r="3.26" fill="#2ea552"/>
<circle cx="278.2" cy="318.6" r="3.70" fill="#b5e6b0"/>
<circle cx="237.7" cy="297.8" r="1.48" fill="#3fae5f" stroke="#123a20" stroke-width="0.75"/>
<circle cx="144.6" cy="294.9" r="3.67" fill="#b5e6b0" stroke="#5f7f5f" stroke-width="0.75"/>
<circle cx="140.3" cy="302.0" r="4.89" fill="#0b7a2c" stroke="#022a0c" stroke-width="0.75"/>
<circle cx="144.1" cy="303.1" r="4.89" fill="#0b7a2c" stroke="#022a0c" stroke-width="0.75"/>
<circle cx="152.3" cy="308.0" r="3.67" fill="#b5e6b0" stroke="#5f7f5f" stroke-width="0.75"/>
<circle cx="153.4" cy="314.5" r="3.05" fill="#0b7a2c" stroke="#022a0c" stroke-width="0.75"/>
<circle cx="161.0" cy="306.9" r="5.86" fill="#0b7a2c" stroke="#022a0c" stroke-width="0.75"/>
<circle cx="162.1" cy="298.2" r="3.67" fill="#0b7a2c" stroke="#022a0c" stroke-width="0.75"/>
<circle cx="168.1" cy="299.8" r="4.28" fill="#3fae5f" stroke="#123a20" stroke-width="0.75"/>
<circle cx="171.4" cy="307.5" r="4.64" fill="#b5e6b0" stroke="#5f7f5f" stroke-width="0.75"/>
<circle cx="166.5" cy="311.8" r="2.20" fill="#b5e6b0" stroke="#5f7f5f" stroke-width="0.75"/>
<circle cx="155.0" cy="291.1" r="5.50" fill="#3fae5f" stroke="#123a20" stroke-width="0.75"/>
<circle cx="162.1" cy="291.1" r="5.50" fill="#3fae5f" stroke="#123a20" stroke-width="0.75"/>
<circle cx="170.8" cy="291.6" r="4.28" fill="#3fae5f" stroke="#123a20" stroke-width="0.75"/>
<circle cx="177.4" cy="297.6" r="3.67" fill="#3fae5f" stroke="#123a20" stroke-width="0.75"/>
<circle cx="180.6" cy="292.2" r="4.28" fill="#0b7a2c" stroke="#022a0c" stroke-width="0.75"/>
<circle cx="182.8" cy="297.6" r="3.42" fill="#0b7a2c" stroke="#022a0c" stroke-width="0.75"/>
<circle cx="187.2" cy="292.2" r="3.67" fill="#b5e6b0" stroke="#5f7f5f" stroke-width="0.75"/>
<circle cx="188.3" cy="298.2" r="3.05" fill="#0b7a2c" stroke="#022a0c" stroke-width="0.75"/>
<circle cx="193.7" cy="294.4" r="4.28" fill="#0b7a2c" stroke="#022a0c" stroke-width="0.75"/>
<circle cx="190.5" cy="306.9" r="4.28" fill="#0b7a2c" stroke="#022a0c" stroke-width="0.75"/>
<circle cx="187.2" cy="309.1" r="3.05" fill="#3fae5f" stroke="#123a20" stroke-width="0.75"/>
<circle cx="181.2" cy="302.5" r="2.44" fill="#eef8ec" stroke="#606060" stroke-width="0.75"/>
<circle cx="195.9" cy="302.0" r="3.05" fill="#3fae5f" stroke="#123a20" stroke-width="0.75"/>
<circle cx="195.9" cy="312.9" r="2.44" fill="#3fae5f" stroke="#123a20" stroke-width="0.75"/>
<circle cx="202.0" cy="288.3" r="4.28" fill="#0b7a2c" stroke="#022a0c" stroke-width="0.75"/>
<circle cx="193.3" cy="288.3" r="4.28" fill="#0b7a2c" stroke="#022a0c" stroke-width="0.75"/>
<circle cx="194.4" cy="294.8" r="4.89" fill="#0b7a2c" stroke="#022a0c" stroke-width="0.75"/>
<circle cx="200.9" cy="297.5" r="4.28" fill="#0b7a2c" stroke="#022a0c" stroke-width="0.75"/>
<circle cx="210.7" cy="295.9" r="4.28" fill="#0b7a2c" stroke="#022a0c" stroke-width="0.75"/>
<circle cx="216.2" cy="286.6" r="4.89" fill="#0b7a2c" stroke="#022a0c" stroke-width="0.75"/>
<circle cx="224.9" cy="286.6" r="4.89" fill="#0b7a2c" stroke="#022a0c" stroke-width="0.75"/>
<circle cx="222.7" cy="296.5" r="4.28" fill="#0b7a2c" stroke="#022a0c" stroke-width="0.75"/>
<circle cx="226.0" cy="291.5" r="3.05" fill="#0b7a2c" stroke="#022a0c" stroke-width="0.75"/>
<circle cx="232.0" cy="291.5" r="3.05" fill="#0b7a2c" stroke="#022a0c" stroke-width="0.75"/>
<circle cx="234.7" cy="298.1" r="3.67" fill="#0b7a2c" stroke="#022a0c" stroke-width="0.75"/>
<circle cx="226.0" cy="301.9" r="3.05" fill="#0b7a2c" stroke="#022a0c" stroke-width="0.75"/>
<circle cx="226.0" cy="304.6" r="3.05" fill="#b5e6b0" stroke="#5f7f5f" stroke-width="0.75"/>
<circle cx="215.1" cy="301.9" r="3.67" fill="#b5e6b0" stroke="#5f7f5f" stroke-width="0.75"/>
<circle cx="208.0" cy="304.6" r="3.67" fill="#b5e6b0" stroke="#5f7f5f" stroke-width="0.75"/>
<circle cx="217.8" cy="306.3" r="3.42" fill="#b5e6b0" stroke="#5f7f5f" stroke-width="0.75"/>
<circle cx="198.7" cy="303.5" r="3.05" fill="#b5e6b0" stroke="#5f7f5f" stroke-width="0.75"/>
<circle cx="198.2" cy="309.5" r="3.05" fill="#b5e6b0" stroke="#5f7f5f" stroke-width="0.75"/>
<circle cx="201.5" cy="312.8" r="3.42" fill="#3fae5f" stroke="#123a20" stroke-width="0.75"/>
<circle cx="197.6" cy="316.1" r="3.05" fill="#b5e6b0" stroke="#5f7f5f" stroke-width="0.75"/>
<circle cx="191.6" cy="306.8" r="4.89" fill="#0b7a2c" stroke="#022a0c" stroke-width="0.75"/>
<circle cx="218.4" cy="311.7" r="3.05" fill="#3fae5f" stroke="#123a20" stroke-width="0.75"/>
<circle cx="218.4" cy="314.5" r="2.69" fill="#b5e6b0" stroke="#5f7f5f" stroke-width="0.75"/>
<circle cx="218.4" cy="317.2" r="2.69" fill="#b5e6b0" stroke="#5f7f5f" stroke-width="0.75"/>
<circle cx="246.7" cy="294.8" r="3.05" fill="#0b7a2c" stroke="#022a0c" stroke-width="0.75"/>
<circle cx="246.7" cy="298.1" r="3.05" fill="#3fae5f" stroke="#123a20" stroke-width="0.75"/>
<circle cx="246.7" cy="309.0" r="3.67" fill="#3fae5f" stroke="#123a20" stroke-width="0.75"/>
<circle cx="241.3" cy="288.3" r="4.28" fill="#0b7a2c" stroke="#022a0c" stroke-width="0.75"/>
<circle cx="208.5" cy="286.6" r="3.67" fill="#b5e6b0" stroke="#5f7f5f" stroke-width="0.75"/>
<circle cx="83.5" cy="334.8" r="4.89" fill="#f36f45" stroke="#7a3020" stroke-width="0.75"/>
<circle cx="85.2" cy="341.4" r="3.36" fill="#b4111a" stroke="#3a0204" stroke-width="0.75"/>
<circle cx="90.6" cy="341.4" r="3.36" fill="#b4111a" stroke="#3a0204" stroke-width="0.75"/>
<circle cx="95.5" cy="340.3" r="2.69" fill="#b4111a" stroke="#3a0204" stroke-width="0.75"/>
<circle cx="100.5" cy="340.8" r="2.96" fill="#b4111a" stroke="#3a0204" stroke-width="0.75"/>
<circle cx="105.4" cy="341.4" r="2.42" fill="#e22e24" stroke="#5a0808" stroke-width="0.75"/>
<circle cx="109.7" cy="339.2" r="3.36" fill="#b4111a" stroke="#3a0204" stroke-width="0.75"/>
<circle cx="112.5" cy="343.0" r="2.96" fill="#b4111a" stroke="#3a0204" stroke-width="0.75"/>
<circle cx="124.5" cy="343.5" r="6.72" fill="#b4111a" stroke="#3a0204" stroke-width="0.75"/>
<circle cx="133.7" cy="339.2" r="2.96" fill="#b4111a" stroke="#3a0204" stroke-width="0.75"/>
<circle cx="134.8" cy="344.6" r="3.36" fill="#b4111a" stroke="#3a0204" stroke-width="0.75"/>
<circle cx="86.8" cy="345.7" r="2.96" fill="#b4111a" stroke="#3a0204" stroke-width="0.75"/>
<circle cx="91.7" cy="347.4" r="3.36" fill="#b4111a" stroke="#3a0204" stroke-width="0.75"/>
<circle cx="96.6" cy="346.8" r="2.96" fill="#b4111a" stroke="#3a0204" stroke-width="0.75"/>
<circle cx="101.5" cy="346.8" r="2.96" fill="#b4111a" stroke="#3a0204" stroke-width="0.75"/>
<circle cx="107.0" cy="345.7" r="2.96" fill="#b4111a" stroke="#3a0204" stroke-width="0.75"/>
<circle cx="112.5" cy="347.9" r="2.96" fill="#b4111a" stroke="#3a0204" stroke-width="0.75"/>
<circle cx="119.0" cy="349.5" r="3.76" fill="#b4111a" stroke="#3a0204" stroke-width="0.75"/>
<circle cx="128.3" cy="350.1" r="3.36" fill="#b4111a" stroke="#3a0204" stroke-width="0.75"/>
<circle cx="133.7" cy="350.1" r="3.36" fill="#b4111a" stroke="#3a0204" stroke-width="0.75"/>
<circle cx="83.0" cy="349.0" r="2.69" fill="#b4111a" stroke="#3a0204" stroke-width="0.75"/>
<circle cx="87.4" cy="350.6" r="3.36" fill="#b4111a" stroke="#3a0204" stroke-width="0.75"/>
<circle cx="92.8" cy="351.7" r="2.96" fill="#b4111a" stroke="#3a0204" stroke-width="0.75"/>
<circle cx="97.2" cy="351.2" r="2.96" fill="#b4111a" stroke="#3a0204" stroke-width="0.75"/>
<circle cx="102.6" cy="352.8" r="2.96" fill="#b4111a" stroke="#3a0204" stroke-width="0.75"/>
<circle cx="107.5" cy="351.2" r="3.36" fill="#b4111a" stroke="#3a0204" stroke-width="0.75"/>
<circle cx="113.0" cy="353.4" r="2.96" fill="#b4111a" stroke="#3a0204" stroke-width="0.75"/>
<circle cx="118.5" cy="355.0" r="2.96" fill="#b4111a" stroke="#3a0204" stroke-width="0.75"/>
<circle cx="123.9" cy="354.5" r="3.36" fill="#b4111a" stroke="#3a0204" stroke-width="0.75"/>
<circle cx="85.2" cy="356.6" r="3.36" fill="#b4111a" stroke="#3a0204" stroke-width="0.75"/>
<circle cx="91.2" cy="358.8" r="3.36" fill="#b4111a" stroke="#3a0204" stroke-width="0.75"/>
<circle cx="97.2" cy="358.3" r="2.96" fill="#b4111a" stroke="#3a0204" stroke-width="0.75"/>
<circle cx="103.2" cy="357.2" r="2.44" fill="#f36f45" stroke="#7a3020" stroke-width="0.75"/>
<circle cx="109.2" cy="356.1" r="2.96" fill="#b4111a" stroke="#3a0204" stroke-width="0.75"/>
<circle cx="114.6" cy="356.6" r="2.96" fill="#b4111a" stroke="#3a0204" stroke-width="0.75"/>
<circle cx="120.6" cy="359.9" r="2.96" fill="#e22e24" stroke="#5a0808" stroke-width="0.75"/>
<circle cx="129.9" cy="359.9" r="3.36" fill="#e22e24" stroke="#5a0808" stroke-width="0.75"/>
<circle cx="82.5" cy="362.1" r="2.96" fill="#b4111a" stroke="#3a0204" stroke-width="0.75"/>
<circle cx="90.1" cy="363.2" r="4.03" fill="#b4111a" stroke="#3a0204" stroke-width="0.75"/>
<circle cx="101.0" cy="363.2" r="3.36" fill="#e22e24" stroke="#5a0808" stroke-width="0.75"/>
<circle cx="109.2" cy="361.5" r="2.96" fill="#e22e24" stroke="#5a0808" stroke-width="0.75"/>
<circle cx="114.1" cy="360.5" r="2.20" fill="#f36f45" stroke="#7a3020" stroke-width="0.75"/>
<circle cx="118.5" cy="363.2" r="2.44" fill="#fde2d4" stroke="#7a5a50" stroke-width="0.75"/>
<circle cx="126.1" cy="367.5" r="4.70" fill="#e22e24" stroke="#5a0808" stroke-width="0.75"/>
<circle cx="134.8" cy="363.2" r="3.36" fill="#e22e24" stroke="#5a0808" stroke-width="0.75"/>
<circle cx="85.7" cy="367.5" r="2.96" fill="#b4111a" stroke="#3a0204" stroke-width="0.75"/>
<circle cx="97.2" cy="367.5" r="2.96" fill="#e22e24" stroke="#5a0808" stroke-width="0.75"/>
<circle cx="105.4" cy="367.5" r="3.36" fill="#b4111a" stroke="#3a0204" stroke-width="0.75"/>
<circle cx="141.9" cy="340.3" r="4.03" fill="#b4111a" stroke="#3a0204" stroke-width="0.75"/>
<circle cx="150.1" cy="343.0" r="2.96" fill="#b4111a" stroke="#3a0204" stroke-width="0.75"/>
<circle cx="155.5" cy="340.8" r="3.36" fill="#b4111a" stroke="#3a0204" stroke-width="0.75"/>
<circle cx="139.2" cy="345.2" r="4.03" fill="#b4111a" stroke="#3a0204" stroke-width="0.75"/>
<circle cx="146.3" cy="346.8" r="3.36" fill="#b4111a" stroke="#3a0204" stroke-width="0.75"/>
<circle cx="152.3" cy="349.5" r="3.36" fill="#b4111a" stroke="#3a0204" stroke-width="0.75"/>
<circle cx="161.0" cy="348.5" r="3.36" fill="#b4111a" stroke="#3a0204" stroke-width="0.75"/>
<circle cx="140.3" cy="351.2" r="3.36" fill="#b4111a" stroke="#3a0204" stroke-width="0.75"/>
<circle cx="147.9" cy="352.8" r="3.36" fill="#b4111a" stroke="#3a0204" stroke-width="0.75"/>
<circle cx="153.4" cy="355.0" r="3.76" fill="#b4111a" stroke="#3a0204" stroke-width="0.75"/>
<circle cx="161.5" cy="352.8" r="3.36" fill="#b4111a" stroke="#3a0204" stroke-width="0.75"/>
<circle cx="145.2" cy="359.9" r="4.70" fill="#b4111a" stroke="#3a0204" stroke-width="0.75"/>
<circle cx="152.3" cy="359.4" r="2.96" fill="#b4111a" stroke="#3a0204" stroke-width="0.75"/>
<circle cx="158.3" cy="359.9" r="3.36" fill="#b4111a" stroke="#3a0204" stroke-width="0.75"/>
<circle cx="167.0" cy="359.4" r="4.03" fill="#b4111a" stroke="#3a0204" stroke-width="0.75"/>
<circle cx="165.9" cy="365.4" r="3.76" fill="#b4111a" stroke="#3a0204" stroke-width="0.75"/>
<circle cx="157.2" cy="367.0" r="4.03" fill="#b4111a" stroke="#3a0204" stroke-width="0.75"/>
<circle cx="138.6" cy="361.0" r="3.36" fill="#b4111a" stroke="#3a0204" stroke-width="0.75"/>
<circle cx="149.5" cy="364.3" r="2.44" fill="#f36f45" stroke="#7a3020" stroke-width="0.75"/>
<circle cx="162.6" cy="357.2" r="1.83" fill="#f36f45" stroke="#7a3020" stroke-width="0.75"/>
<circle cx="179.5" cy="344.6" r="4.64" fill="#f36f45" stroke="#7a3020" stroke-width="0.75"/>
<circle cx="185.0" cy="347.4" r="3.42" fill="#f8b49a" stroke="#7a4a40" stroke-width="0.75"/>
<circle cx="172.5" cy="351.2" r="3.36" fill="#b4111a" stroke="#3a0204" stroke-width="0.75"/>
<circle cx="173.0" cy="355.5" r="2.42" fill="#e22e24" stroke="#5a0808" stroke-width="0.75"/>
<circle cx="177.4" cy="352.3" r="3.05" fill="#f36f45" stroke="#7a3020" stroke-width="0.75"/>
<circle cx="181.7" cy="353.9" r="3.76" fill="#b4111a" stroke="#3a0204" stroke-width="0.75"/>
<circle cx="185.0" cy="358.3" r="3.76" fill="#e22e24" stroke="#5a0808" stroke-width="0.75"/>
<circle cx="188.8" cy="355.5" r="2.44" fill="#fde2d4" stroke="#7a5a50" stroke-width="0.75"/>
<circle cx="182.3" cy="363.7" r="4.70" fill="#e22e24" stroke="#5a0808" stroke-width="0.75"/>
<circle cx="142.5" cy="367.0" r="3.36" fill="#b4111a" stroke="#3a0204" stroke-width="0.75"/>
<circle cx="224.8" cy="336.5" r="4.70" fill="#b4111a" stroke="#3a0204" stroke-width="0.75"/>
<circle cx="219.9" cy="339.7" r="3.36" fill="#e22e24" stroke="#5a0808" stroke-width="0.75"/>
<circle cx="230.8" cy="337.0" r="4.28" fill="#fde2d4" stroke="#7a5a50" stroke-width="0.75"/>
<circle cx="229.2" cy="343.0" r="3.67" fill="#f8b49a" stroke="#7a4a40" stroke-width="0.75"/>
<circle cx="212.3" cy="364.8" r="5.64" fill="#b4111a" stroke="#3a0204" stroke-width="0.75"/>
<circle cx="224.8" cy="365.4" r="2.96" fill="#e22e24" stroke="#5a0808" stroke-width="0.75"/>
<circle cx="279.9" cy="337.6" r="2.93" fill="#b8121c"/>
<circle cx="285.6" cy="336.5" r="4.07" fill="#b4111a" stroke="#3a0204" stroke-width="0.75"/>
<circle cx="289.9" cy="338.5" r="2.96" fill="#fde2d4" stroke="#7a5a50" stroke-width="0.75"/>
<circle cx="284.3" cy="346.2" r="3.26" fill="#fde2d4" stroke="#7a5a50" stroke-width="0.75"/>
<circle cx="260.8" cy="363.6" r="4.88" fill="#b4111a" stroke="#3a0204" stroke-width="0.75"/>
<circle cx="269.4" cy="365.6" r="4.07" fill="#e22e24" stroke="#5a0808" stroke-width="0.75"/>
<circle cx="84.6" cy="364.4" r="3.36" fill="#b4111a" stroke="#3a0204" stroke-width="0.75"/>
<circle cx="90.1" cy="364.4" r="4.70" fill="#b4111a" stroke="#3a0204" stroke-width="0.75"/>
<circle cx="85.2" cy="370.9" r="4.03" fill="#b4111a" stroke="#3a0204" stroke-width="0.75"/>
<circle cx="89.0" cy="375.8" r="3.36" fill="#e22e24" stroke="#5a0808" stroke-width="0.75"/>
<circle cx="85.2" cy="379.1" r="3.36" fill="#b4111a" stroke="#3a0204" stroke-width="0.75"/>
<circle cx="81.9" cy="379.6" r="1.83" fill="#f8b49a" stroke="#7a4a40" stroke-width="0.75"/>
<circle cx="84.4" cy="384.5" r="2.96" fill="#b4111a" stroke="#3a0204" stroke-width="0.75"/>
<circle cx="84.4" cy="390.9" r="2.96" fill="#b4111a" stroke="#3a0204" stroke-width="0.75"/>
<circle cx="84.4" cy="397.1" r="2.96" fill="#e22e24" stroke="#5a0808" stroke-width="0.75"/>
<circle cx="96.1" cy="370.4" r="3.36" fill="#e22e24" stroke="#5a0808" stroke-width="0.75"/>
<circle cx="101.5" cy="363.3" r="3.36" fill="#e22e24" stroke="#5a0808" stroke-width="0.75"/>
<circle cx="99.4" cy="366.5" r="3.36" fill="#b4111a" stroke="#3a0204" stroke-width="0.75"/>
<circle cx="105.4" cy="368.2" r="4.30" fill="#b4111a" stroke="#3a0204" stroke-width="0.75"/>
<circle cx="109.7" cy="372.0" r="4.03" fill="#e22e24" stroke="#5a0808" stroke-width="0.75"/>
<circle cx="102.1" cy="379.1" r="3.42" fill="#fdeee6" stroke="#806060" stroke-width="0.75"/>
<circle cx="102.6" cy="381.3" r="2.69" fill="#f8b49a" stroke="#7a4a40" stroke-width="0.75"/>
<circle cx="109.7" cy="379.6" r="4.70" fill="#b4111a" stroke="#3a0204" stroke-width="0.75"/>
<circle cx="109.2" cy="361.6" r="3.36" fill="#e22e24" stroke="#5a0808" stroke-width="0.75"/>
<circle cx="121.2" cy="370.9" r="3.67" fill="#f8b49a" stroke="#7a4a40" stroke-width="0.75"/>
<circle cx="126.1" cy="368.2" r="4.70" fill="#e22e24" stroke="#5a0808" stroke-width="0.75"/>
<circle cx="131.5" cy="363.3" r="4.03" fill="#e22e24" stroke="#5a0808" stroke-width="0.75"/>
<circle cx="118.5" cy="363.8" r="2.44" fill="#fde2d4" stroke="#7a5a50" stroke-width="0.75"/>
<circle cx="135.9" cy="391.6" r="2.42" fill="#b8121c"/>
<circle cx="95.5" cy="373.6" r="2.44" fill="#f36f45" stroke="#7a3020" stroke-width="0.75"/>
<circle cx="114.6" cy="361.1" r="2.44" fill="#f36f45" stroke="#7a3020" stroke-width="0.75"/>
<circle cx="139.7" cy="371.5" r="4.28" fill="#f36f45" stroke="#7a3020" stroke-width="0.75"/>
<circle cx="149.5" cy="372.5" r="4.28" fill="#f36f45" stroke="#7a3020" stroke-width="0.75"/>
<circle cx="156.6" cy="368.2" r="4.70" fill="#b4111a" stroke="#3a0204" stroke-width="0.75"/>
<circle cx="166.5" cy="364.9" r="4.03" fill="#b4111a" stroke="#3a0204" stroke-width="0.75"/>
<circle cx="169.2" cy="368.2" r="2.44" fill="#fde2d4" stroke="#7a5a50" stroke-width="0.75"/>
<circle cx="165.4" cy="374.7" r="3.05" fill="#f8b49a" stroke="#7a4a40" stroke-width="0.75"/>
<circle cx="167.5" cy="375.3" r="2.44" fill="#fde2d4" stroke="#7a5a50" stroke-width="0.75"/>
<circle cx="181.7" cy="364.4" r="4.30" fill="#e22e24" stroke="#5a0808" stroke-width="0.75"/>
<circle cx="185.5" cy="360.5" r="2.69" fill="#e22e24" stroke="#5a0808" stroke-width="0.75"/>
<circle cx="143.5" cy="382.9" r="4.30" fill="#e22e24" stroke="#5a0808" stroke-width="0.75"/>
<circle cx="144.1" cy="390.0" r="3.76" fill="#e22e24" stroke="#5a0808" stroke-width="0.75"/>
<circle cx="163.2" cy="393.3" r="5.38" fill="#b4111a" stroke="#3a0204" stroke-width="0.75"/>
<circle cx="192.1" cy="378.5" r="3.05" fill="#f8b49a" stroke="#7a4a40" stroke-width="0.75"/>
<circle cx="149.0" cy="364.4" r="2.44" fill="#f36f45" stroke="#7a3020" stroke-width="0.75"/>
<circle cx="141.4" cy="361.6" r="4.03" fill="#b4111a" stroke="#3a0204" stroke-width="0.75"/>
<circle cx="158.8" cy="361.1" r="3.36" fill="#b4111a" stroke="#3a0204" stroke-width="0.75"/>
<circle cx="152.3" cy="362.2" r="3.36" fill="#b4111a" stroke="#3a0204" stroke-width="0.75"/>
<circle cx="145.2" cy="360.5" r="4.70" fill="#b4111a" stroke="#3a0204" stroke-width="0.75"/>
<text x="58.5" y="327.4" font-size="5.6" text-anchor="middle" font-weight="normal" fill="#2a2a2a" transform="rotate(-90 58.5 327.4)"><tspan font-style="italic">m/z</tspan></text>
<text x="185.05" y="425.5" font-size="5.1" text-anchor="middle" font-weight="normal" fill="#111" stroke="#111" stroke-width="0.15">Retention time (minutes)</text>
<line x1="376.6" y1="20.5" x2="376.6" y2="194" stroke="#dedede" stroke-width="0.7"/>
<line x1="417.2" y1="20.5" x2="417.2" y2="194" stroke="#dedede" stroke-width="0.7"/>
<line x1="457.8" y1="20.5" x2="457.8" y2="194" stroke="#dedede" stroke-width="0.7"/>
<line x1="498.4" y1="20.5" x2="498.4" y2="194" stroke="#dedede" stroke-width="0.7"/>
<line x1="539.0" y1="20.5" x2="539.0" y2="194" stroke="#dedede" stroke-width="0.7"/>
<line x1="371.8" y1="28.2" x2="545.3" y2="28.2" stroke="#dedede" stroke-width="0.7"/>
<line x1="371.8" y1="68.3" x2="545.3" y2="68.3" stroke="#dedede" stroke-width="0.7"/>
<line x1="371.8" y1="108.5" x2="545.3" y2="108.5" stroke="#dedede" stroke-width="0.7"/>
<line x1="371.8" y1="148.7" x2="545.3" y2="148.7" stroke="#dedede" stroke-width="0.7"/>
<line x1="371.8" y1="188.8" x2="545.3" y2="188.8" stroke="#dedede" stroke-width="0.7"/>
<ellipse cx="419" cy="109.7" rx="59.3" ry="22.45" transform="rotate(-69.8 419 109.7)" fill="#ff0000" fill-opacity="0.2"/>
<ellipse cx="497.3" cy="107" rx="73.4" ry="17.8" transform="rotate(69.4 497.3 107)" fill="#00cc00" fill-opacity="0.2"/>
<circle cx="450.6" cy="54.3" r="2.55" fill="#f26a6a" stroke="#3a2626" stroke-width="0.8"/>
<circle cx="408.5" cy="96.2" r="2.55" fill="#f26a6a" stroke="#3a2626" stroke-width="0.8"/>
<circle cx="405.6" cy="102.8" r="2.55" fill="#f26a6a" stroke="#3a2626" stroke-width="0.8"/>
<circle cx="418.5" cy="102.4" r="2.55" fill="#f26a6a" stroke="#3a2626" stroke-width="0.8"/>
<circle cx="416.1" cy="114.3" r="2.55" fill="#f26a6a" stroke="#3a2626" stroke-width="0.8"/>
<circle cx="417.0" cy="117.9" r="2.55" fill="#e82224" stroke="#3a2626" stroke-width="0.8"/>
<circle cx="416.7" cy="123.1" r="2.55" fill="#f26a6a" stroke="#3a2626" stroke-width="0.8"/>
<circle cx="419.2" cy="130.5" r="2.55" fill="#f26a6a" stroke="#3a2626" stroke-width="0.8"/>
<circle cx="421.9" cy="136.0" r="2.55" fill="#f26a6a" stroke="#3a2626" stroke-width="0.8"/>
<circle cx="479.9" cy="68.4" r="2.55" fill="#5cd65c" stroke="#263a26" stroke-width="0.8"/>
<circle cx="486.8" cy="65.9" r="2.55" fill="#5cd65c" stroke="#263a26" stroke-width="0.8"/>
<circle cx="474.5" cy="90.0" r="2.55" fill="#5cd65c" stroke="#263a26" stroke-width="0.8"/>
<circle cx="500.4" cy="104.4" r="2.55" fill="#5cd65c" stroke="#263a26" stroke-width="0.8"/>
<circle cx="510.4" cy="102.9" r="2.55" fill="#5cd65c" stroke="#263a26" stroke-width="0.8"/>
<circle cx="497.8" cy="109.0" r="2.55" fill="#5cd65c" stroke="#263a26" stroke-width="0.8"/>
<circle cx="499.9" cy="111.0" r="2.55" fill="#5cd65c" stroke="#263a26" stroke-width="0.8"/>
<circle cx="498.8" cy="124.9" r="2.55" fill="#5cd65c" stroke="#263a26" stroke-width="0.8"/>
<circle cx="510.5" cy="143.8" r="2.55" fill="#5cd65c" stroke="#263a26" stroke-width="0.8"/>
<circle cx="507.5" cy="151.6" r="2.55" fill="#5cd65c" stroke="#263a26" stroke-width="0.8"/>
<rect x="371.8" y="20.5" width="173.49999999999994" height="173.5" fill="none" stroke="#707070" stroke-width="1"/>
<line x1="376.6" y1="194" x2="376.6" y2="197" stroke="#666" stroke-width="0.7"/>
<text x="376.6" y="206.8" font-size="5.6" text-anchor="middle" font-weight="normal" fill="#1a1a1a" stroke="#1a1a1a" stroke-width="0.12">-40</text>
<line x1="417.2" y1="194" x2="417.2" y2="197" stroke="#666" stroke-width="0.7"/>
<text x="417.2" y="206.8" font-size="5.6" text-anchor="middle" font-weight="normal" fill="#1a1a1a" stroke="#1a1a1a" stroke-width="0.12">-20</text>
<line x1="457.8" y1="194" x2="457.8" y2="197" stroke="#666" stroke-width="0.7"/>
<text x="457.8" y="206.8" font-size="5.6" text-anchor="middle" font-weight="normal" fill="#1a1a1a" stroke="#1a1a1a" stroke-width="0.12">0</text>
<line x1="498.4" y1="194" x2="498.4" y2="197" stroke="#666" stroke-width="0.7"/>
<text x="498.4" y="206.8" font-size="5.6" text-anchor="middle" font-weight="normal" fill="#1a1a1a" stroke="#1a1a1a" stroke-width="0.12">20</text>
<line x1="539.0" y1="194" x2="539.0" y2="197" stroke="#666" stroke-width="0.7"/>
<text x="539.0" y="206.8" font-size="5.6" text-anchor="middle" font-weight="normal" fill="#1a1a1a" stroke="#1a1a1a" stroke-width="0.12">40</text>
<line x1="368.8" y1="28.2" x2="371.8" y2="28.2" stroke="#666" stroke-width="0.7"/>
<text x="364.5" y="28.2" font-size="5.6" text-anchor="middle" font-weight="normal" fill="#1a1a1a" stroke="#1a1a1a" stroke-width="0.12" transform="rotate(-90 364.5 28.2)">20</text>
<line x1="368.8" y1="68.3" x2="371.8" y2="68.3" stroke="#666" stroke-width="0.7"/>
<text x="364.5" y="68.3" font-size="5.6" text-anchor="middle" font-weight="normal" fill="#1a1a1a" stroke="#1a1a1a" stroke-width="0.12" transform="rotate(-90 364.5 68.3)">10</text>
<line x1="368.8" y1="108.5" x2="371.8" y2="108.5" stroke="#666" stroke-width="0.7"/>
<text x="364.5" y="108.5" font-size="5.6" text-anchor="middle" font-weight="normal" fill="#1a1a1a" stroke="#1a1a1a" stroke-width="0.12" transform="rotate(-90 364.5 108.5)">0</text>
<line x1="368.8" y1="148.7" x2="371.8" y2="148.7" stroke="#666" stroke-width="0.7"/>
<text x="364.5" y="148.7" font-size="5.6" text-anchor="middle" font-weight="normal" fill="#1a1a1a" stroke="#1a1a1a" stroke-width="0.12" transform="rotate(-90 364.5 148.7)">-10</text>
<line x1="368.8" y1="188.8" x2="371.8" y2="188.8" stroke="#666" stroke-width="0.7"/>
<text x="364.5" y="188.8" font-size="5.6" text-anchor="middle" font-weight="normal" fill="#1a1a1a" stroke="#1a1a1a" stroke-width="0.12" transform="rotate(-90 364.5 188.8)">-20</text>
<text x="458.54999999999995" y="13.2" font-size="6.6" text-anchor="middle" font-weight="bold" fill="#111">Scores Plot</text>
<text x="458.54999999999995" y="219.5" font-size="5.5" text-anchor="middle" font-weight="normal" fill="#111" stroke="#111" stroke-width="0.15">PC 1 ( 72.6 %)</text>
<text x="352.2" y="107.25" font-size="5.5" text-anchor="middle" font-weight="normal" fill="#111" stroke="#111" stroke-width="0.15" transform="rotate(-90 352.2 107.25)">PC 2 ( 6.8 %)</text>
<rect x="515.3" y="20.5" width="30" height="19" fill="#fff" stroke="#707070" stroke-width="0.8"/>
<circle cx="520.3" cy="26.7" r="1.4" fill="#f00"/>
<circle cx="520.3" cy="33.3" r="1.4" fill="#0c0"/>
<text x="525.3" y="28.7" font-size="5.5" text-anchor="start" font-weight="normal" fill="#000" stroke="#000" stroke-width="0.12">TCDD</text>
<text x="525.3" y="35.3" font-size="5.5" text-anchor="start" font-weight="normal" fill="#000" stroke="#000" stroke-width="0.12">Vehicle</text>
<line x1="376.8" y1="249.9" x2="376.8" y2="423.7" stroke="#dedede" stroke-width="0.7"/>
<line x1="406.8" y1="249.9" x2="406.8" y2="423.7" stroke="#dedede" stroke-width="0.7"/>
<line x1="436.7" y1="249.9" x2="436.7" y2="423.7" stroke="#dedede" stroke-width="0.7"/>
<line x1="466.6" y1="249.9" x2="466.6" y2="423.7" stroke="#dedede" stroke-width="0.7"/>
<line x1="496.5" y1="249.9" x2="496.5" y2="423.7" stroke="#dedede" stroke-width="0.7"/>
<line x1="526.5" y1="249.9" x2="526.5" y2="423.7" stroke="#dedede" stroke-width="0.7"/>
<line x1="370.8" y1="264.8" x2="544.9" y2="264.8" stroke="#dedede" stroke-width="0.7"/>
<line x1="370.8" y1="301.4" x2="544.9" y2="301.4" stroke="#dedede" stroke-width="0.7"/>
<line x1="370.8" y1="338.0" x2="544.9" y2="338.0" stroke="#dedede" stroke-width="0.7"/>
<line x1="370.8" y1="374.7" x2="544.9" y2="374.7" stroke="#dedede" stroke-width="0.7"/>
<line x1="370.8" y1="411.3" x2="544.9" y2="411.3" stroke="#dedede" stroke-width="0.7"/>
<ellipse cx="439.7" cy="338.75" rx="65.8" ry="43.65" transform="rotate(-57.6 439.7 338.75)" fill="#ff0000" fill-opacity="0.2"/>
<ellipse cx="493.15" cy="336.6" rx="72.8" ry="23.7" transform="rotate(70.1 493.15 336.6)" fill="#00cc00" fill-opacity="0.2"/>
<circle cx="450.5" cy="281.6" r="2.55" fill="#f26a6a" stroke="#3a2626" stroke-width="0.8"/>
<circle cx="451.7" cy="315.6" r="2.55" fill="#f26a6a" stroke="#3a2626" stroke-width="0.8"/>
<circle cx="444.3" cy="332.6" r="2.55" fill="#f26a6a" stroke="#3a2626" stroke-width="0.8"/>
<circle cx="457.3" cy="337.3" r="2.55" fill="#f26a6a" stroke="#3a2626" stroke-width="0.8"/>
<circle cx="440.3" cy="339.8" r="2.55" fill="#f26a6a" stroke="#3a2626" stroke-width="0.8"/>
<circle cx="409.4" cy="348.4" r="2.55" fill="#f26a6a" stroke="#3a2626" stroke-width="0.8"/>
<circle cx="401" cy="358" r="2.55" fill="#f26a6a" stroke="#3a2626" stroke-width="0.8"/>
<circle cx="435" cy="356.4" r="2.55" fill="#f26a6a" stroke="#3a2626" stroke-width="0.8"/>
<circle cx="435" cy="360.5" r="2.55" fill="#f26a6a" stroke="#3a2626" stroke-width="0.8"/>
<circle cx="469.6" cy="358" r="2.55" fill="#f26a6a" stroke="#3a2626" stroke-width="0.8"/>
<circle cx="485.7" cy="293.3" r="2.55" fill="#5cd65c" stroke="#263a26" stroke-width="0.8"/>
<circle cx="462.2" cy="302.3" r="2.55" fill="#5cd65c" stroke="#263a26" stroke-width="0.8"/>
<circle cx="504.6" cy="309.5" r="2.55" fill="#5cd65c" stroke="#263a26" stroke-width="0.8"/>
<circle cx="490.4" cy="331.1" r="2.55" fill="#5cd65c" stroke="#263a26" stroke-width="0.8"/>
<circle cx="491.3" cy="334.2" r="2.55" fill="#5cd65c" stroke="#263a26" stroke-width="0.8"/>
<circle cx="494.4" cy="339.4" r="2.55" fill="#5cd65c" stroke="#263a26" stroke-width="0.8"/>
<circle cx="502.7" cy="353.4" r="2.55" fill="#5cd65c" stroke="#263a26" stroke-width="0.8"/>
<circle cx="492.2" cy="364.2" r="2.55" fill="#5cd65c" stroke="#263a26" stroke-width="0.8"/>
<circle cx="496.8" cy="366" r="2.55" fill="#5cd65c" stroke="#263a26" stroke-width="0.8"/>
<circle cx="512.9" cy="375" r="2.55" fill="#5cd65c" stroke="#263a26" stroke-width="0.8"/>
<rect x="370.8" y="249.9" width="174.09999999999997" height="173.79999999999998" fill="none" stroke="#707070" stroke-width="1"/>
<line x1="376.8" y1="423.7" x2="376.8" y2="426.7" stroke="#666" stroke-width="0.7"/>
<text x="376.8" y="436.5" font-size="5.6" text-anchor="middle" font-weight="normal" fill="#1a1a1a" stroke="#1a1a1a" stroke-width="0.12">-30</text>
<line x1="406.8" y1="423.7" x2="406.8" y2="426.7" stroke="#666" stroke-width="0.7"/>
<text x="406.8" y="436.5" font-size="5.6" text-anchor="middle" font-weight="normal" fill="#1a1a1a" stroke="#1a1a1a" stroke-width="0.12">-20</text>
<line x1="436.7" y1="423.7" x2="436.7" y2="426.7" stroke="#666" stroke-width="0.7"/>
<text x="436.7" y="436.5" font-size="5.6" text-anchor="middle" font-weight="normal" fill="#1a1a1a" stroke="#1a1a1a" stroke-width="0.12">-10</text>
<line x1="466.6" y1="423.7" x2="466.6" y2="426.7" stroke="#666" stroke-width="0.7"/>
<text x="466.6" y="436.5" font-size="5.6" text-anchor="middle" font-weight="normal" fill="#1a1a1a" stroke="#1a1a1a" stroke-width="0.12">0</text>
<line x1="496.5" y1="423.7" x2="496.5" y2="426.7" stroke="#666" stroke-width="0.7"/>
<text x="496.5" y="436.5" font-size="5.6" text-anchor="middle" font-weight="normal" fill="#1a1a1a" stroke="#1a1a1a" stroke-width="0.12">10</text>
<line x1="526.5" y1="423.7" x2="526.5" y2="426.7" stroke="#666" stroke-width="0.7"/>
<text x="526.5" y="436.5" font-size="5.6" text-anchor="middle" font-weight="normal" fill="#1a1a1a" stroke="#1a1a1a" stroke-width="0.12">20</text>
<line x1="367.8" y1="264.8" x2="370.8" y2="264.8" stroke="#666" stroke-width="0.7"/>
<text x="363.5" y="264.8" font-size="5.6" text-anchor="middle" font-weight="normal" fill="#1a1a1a" stroke="#1a1a1a" stroke-width="0.12" transform="rotate(-90 363.5 264.8)">20</text>
<line x1="367.8" y1="301.4" x2="370.8" y2="301.4" stroke="#666" stroke-width="0.7"/>
<text x="363.5" y="301.4" font-size="5.6" text-anchor="middle" font-weight="normal" fill="#1a1a1a" stroke="#1a1a1a" stroke-width="0.12" transform="rotate(-90 363.5 301.4)">10</text>
<line x1="367.8" y1="338.0" x2="370.8" y2="338.0" stroke="#666" stroke-width="0.7"/>
<text x="363.5" y="338.0" font-size="5.6" text-anchor="middle" font-weight="normal" fill="#1a1a1a" stroke="#1a1a1a" stroke-width="0.12" transform="rotate(-90 363.5 338.0)">0</text>
<line x1="367.8" y1="374.7" x2="370.8" y2="374.7" stroke="#666" stroke-width="0.7"/>
<text x="363.5" y="374.7" font-size="5.6" text-anchor="middle" font-weight="normal" fill="#1a1a1a" stroke="#1a1a1a" stroke-width="0.12" transform="rotate(-90 363.5 374.7)">-10</text>
<line x1="367.8" y1="411.3" x2="370.8" y2="411.3" stroke="#666" stroke-width="0.7"/>
<text x="363.5" y="411.3" font-size="5.6" text-anchor="middle" font-weight="normal" fill="#1a1a1a" stroke="#1a1a1a" stroke-width="0.12" transform="rotate(-90 363.5 411.3)">-20</text>
<text x="457.85" y="242.6" font-size="6.6" text-anchor="middle" font-weight="bold" fill="#111">Scores Plot</text>
<text x="457.85" y="449.2" font-size="5.5" text-anchor="middle" font-weight="normal" fill="#111" stroke="#111" stroke-width="0.15">PC 1 ( 36.2 %)</text>
<text x="351.2" y="336.8" font-size="5.5" text-anchor="middle" font-weight="normal" fill="#111" stroke="#111" stroke-width="0.15" transform="rotate(-90 351.2 336.8)">PC 2 ( 15.2 %)</text>
<rect x="514.9" y="249.9" width="30" height="19" fill="#fff" stroke="#707070" stroke-width="0.8"/>
<circle cx="519.9" cy="256.1" r="1.4" fill="#f00"/>
<circle cx="519.9" cy="262.7" r="1.4" fill="#0c0"/>
<text x="524.9" y="258.1" font-size="5.5" text-anchor="start" font-weight="normal" fill="#000" stroke="#000" stroke-width="0.12">TCDD</text>
<text x="524.9" y="264.7" font-size="5.5" text-anchor="start" font-weight="normal" fill="#000" stroke="#000" stroke-width="0.12">Vehicle</text>
<text x="38.4" y="23.2" font-size="19.5" text-anchor="middle" font-weight="normal" fill="#111">a</text>
<text x="349.8" y="18.6" font-size="19" text-anchor="middle" font-weight="normal" fill="#111">b</text>
<text x="38.1" y="247.8" font-size="19.5" text-anchor="middle" font-weight="normal" fill="#111">c</text>
<text x="351.4" y="247.7" font-size="19" text-anchor="middle" font-weight="normal" fill="#111">d</text>
<text x="5.5" y="73.3" font-size="13" text-anchor="start" font-weight="bold" fill="#111">Serum</text>
<text x="5.5" y="293.5" font-size="12.6" font-weight="bold" fill="#111" textLength="31.6" lengthAdjust="spacingAndGlyphs">Cecal</text>
<text x="5.5" y="311.5" font-size="12.6" font-weight="bold" fill="#111" textLength="50" lengthAdjust="spacingAndGlyphs" clip-path="url(#ccon)">Content</text>
</svg></body></html>
